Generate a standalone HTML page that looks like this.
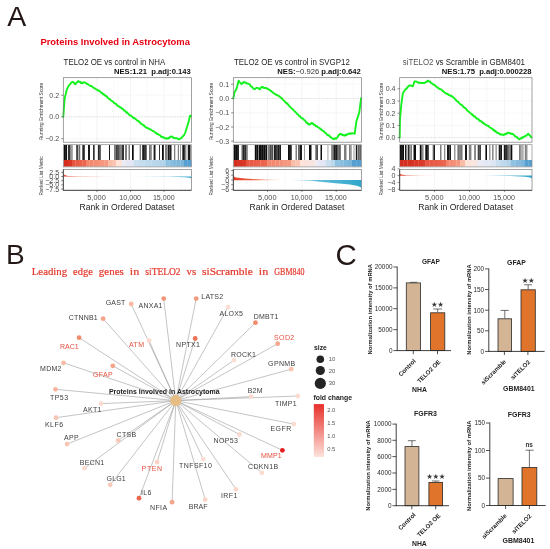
<!DOCTYPE html>
<html><head><meta charset="utf-8"><title>Figure</title>
<style>html,body{margin:0;padding:0;background:#fff}svg{display:block}</style></head>
<body><svg width="550" height="549" viewBox="0 0 550 549">
<rect width="550" height="549" fill="#fff"/>
<defs>
<linearGradient id="gr" x1="0" x2="1" y1="0" y2="0"><stop offset="0" stop-color="#e63c26"/><stop offset="0.55" stop-color="#ef6a4e"/><stop offset="1" stop-color="#fde5dc"/></linearGradient>
<linearGradient id="gb" x1="0" x2="1" y1="0" y2="0"><stop offset="0" stop-color="#d4ecf4"/><stop offset="0.4" stop-color="#5fbcd8"/><stop offset="1" stop-color="#2fa6cc"/></linearGradient>
<linearGradient id="gfc" x1="0" x2="0" y1="0" y2="1"><stop offset="0" stop-color="#e7302a"/><stop offset="1" stop-color="#fde3db"/></linearGradient>
</defs>
<text x="7.20" y="25.60" font-size="28.50" text-anchor="start" font-weight="normal" fill="#231815" font-family="Liberation Sans, Arial, sans-serif" >A</text>
<text x="6.00" y="264.00" font-size="28.00" text-anchor="start" font-weight="normal" fill="#231815" font-family="Liberation Sans, Arial, sans-serif" >B</text>
<text x="335.60" y="265.40" font-size="29.40" text-anchor="start" font-weight="normal" fill="#231815" font-family="Liberation Sans, Arial, sans-serif" >C</text>
<text x="40.40" y="44.80" font-size="9.50" text-anchor="start" font-weight="bold" fill="#e60012" font-family="Liberation Sans, Arial, sans-serif" textLength="149.60" lengthAdjust="spacingAndGlyphs" >Proteins Involved in Astrocytoma</text>
<line x1="80.10" y1="77.70" x2="80.10" y2="142.20" stroke="#f3f3f3" stroke-width="0.5"/>
<line x1="80.10" y1="169.50" x2="80.10" y2="190.30" stroke="#f3f3f3" stroke-width="0.5"/>
<line x1="96.90" y1="77.70" x2="96.90" y2="142.20" stroke="#e9e9e9" stroke-width="0.5"/>
<line x1="96.90" y1="169.50" x2="96.90" y2="190.30" stroke="#e9e9e9" stroke-width="0.5"/>
<line x1="113.70" y1="77.70" x2="113.70" y2="142.20" stroke="#f3f3f3" stroke-width="0.5"/>
<line x1="113.70" y1="169.50" x2="113.70" y2="190.30" stroke="#f3f3f3" stroke-width="0.5"/>
<line x1="130.50" y1="77.70" x2="130.50" y2="142.20" stroke="#e9e9e9" stroke-width="0.5"/>
<line x1="130.50" y1="169.50" x2="130.50" y2="190.30" stroke="#e9e9e9" stroke-width="0.5"/>
<line x1="147.30" y1="77.70" x2="147.30" y2="142.20" stroke="#f3f3f3" stroke-width="0.5"/>
<line x1="147.30" y1="169.50" x2="147.30" y2="190.30" stroke="#f3f3f3" stroke-width="0.5"/>
<line x1="164.10" y1="77.70" x2="164.10" y2="142.20" stroke="#e9e9e9" stroke-width="0.5"/>
<line x1="164.10" y1="169.50" x2="164.10" y2="190.30" stroke="#e9e9e9" stroke-width="0.5"/>
<line x1="180.90" y1="77.70" x2="180.90" y2="142.20" stroke="#f3f3f3" stroke-width="0.5"/>
<line x1="180.90" y1="169.50" x2="180.90" y2="190.30" stroke="#f3f3f3" stroke-width="0.5"/>
<line x1="63.30" y1="95.20" x2="191.40" y2="95.20" stroke="#efefef" stroke-width="0.5"/>
<line x1="63.30" y1="116.80" x2="191.40" y2="116.80" stroke="#efefef" stroke-width="0.5"/>
<line x1="63.30" y1="138.70" x2="191.40" y2="138.70" stroke="#efefef" stroke-width="0.5"/>
<line x1="63.30" y1="116.80" x2="191.40" y2="116.80" stroke="#cfcfcf" stroke-width="0.8" stroke-dasharray="0.9,1.7"/>
<path d="M63.30,116.80 L63.95,107.82 L64.60,99.20 L65.20,96.12 L65.80,93.88 L66.40,91.00 L67.03,89.04 L67.67,87.97 L68.30,86.40 L68.97,85.52 L69.63,84.46 L70.30,84.16 L70.97,82.94 L71.63,82.58 L72.30,81.90 L72.94,81.93 L73.58,82.41 L74.22,83.20 L74.86,84.07 L75.50,84.20 L76.20,83.02 L76.90,82.32 L77.60,81.93 L78.30,81.00 L78.90,81.81 L79.50,81.81 L80.10,82.00 L80.70,82.94 L81.30,82.38 L81.90,83.20 L82.80,83.06 L83.70,82.20 L84.36,82.33 L85.01,82.53 L85.67,82.85 L86.33,83.38 L86.99,84.23 L87.64,83.94 L88.30,84.60 L88.91,85.05 L89.52,85.47 L90.13,85.57 L90.74,86.11 L91.36,86.00 L91.97,86.36 L92.58,86.87 L93.19,87.71 L93.80,87.90 L94.43,88.19 L95.06,88.43 L95.69,89.07 L96.32,89.29 L96.95,89.50 L97.58,90.35 L98.21,90.62 L98.84,90.52 L99.47,91.21 L100.10,91.50 L100.73,92.03 L101.35,92.88 L101.98,93.23 L102.61,93.29 L103.23,94.48 L103.86,94.12 L104.48,94.92 L105.11,95.76 L105.74,95.65 L106.36,96.49 L106.99,96.54 L107.62,97.67 L108.24,98.26 L108.87,98.57 L109.49,99.38 L110.12,99.31 L110.75,100.20 L111.37,100.59 L112.00,101.00 L112.60,101.55 L113.21,101.90 L113.81,102.75 L114.41,103.32 L115.02,103.32 L115.62,103.98 L116.22,103.85 L116.82,104.96 L117.43,105.37 L118.03,106.19 L118.63,106.49 L119.24,106.42 L119.84,106.99 L120.44,107.74 L121.05,107.57 L121.65,108.48 L122.25,108.65 L122.85,109.07 L123.46,109.48 L124.06,110.66 L124.66,110.49 L125.27,111.08 L125.87,111.69 L126.47,112.64 L127.08,112.32 L127.68,113.16 L128.28,113.73 L128.88,114.53 L129.49,114.94 L130.09,115.45 L130.69,115.34 L131.30,115.95 L131.90,116.50 L132.50,116.81 L133.11,117.79 L133.71,118.32 L134.32,117.97 L134.92,118.45 L135.53,118.96 L136.13,119.41 L136.73,120.12 L137.34,120.68 L137.94,120.80 L138.55,121.00 L139.15,121.87 L139.75,122.27 L140.36,122.92 L140.96,123.77 L141.57,123.96 L142.17,124.24 L142.78,124.79 L143.38,125.31 L143.98,125.14 L144.59,126.44 L145.19,126.77 L145.80,127.32 L146.40,127.40 L147.01,128.06 L147.61,128.02 L148.22,128.39 L148.83,128.46 L149.43,129.35 L150.04,129.14 L150.65,129.51 L151.25,130.02 L151.86,130.33 L152.47,130.87 L153.07,130.95 L153.68,131.26 L154.29,131.77 L154.89,132.09 L155.50,132.71 L156.11,132.74 L156.71,133.95 L157.32,134.05 L157.93,133.95 L158.53,134.42 L159.14,134.88 L159.75,135.26 L160.35,135.38 L160.96,136.47 L161.57,136.98 L162.17,136.81 L162.78,137.19 L163.39,137.16 L163.99,137.54 L164.60,138.30 L165.28,138.20 L165.96,138.18 L166.64,138.81 L167.32,138.20 L168.00,138.60 L168.60,137.70 L169.20,138.21 L169.80,137.37 L170.40,136.57 L171.00,136.50 L171.67,136.79 L172.33,136.53 L173.00,137.28 L173.67,137.98 L174.33,138.11 L175.00,138.00 L175.70,138.41 L176.40,138.19 L177.10,138.52 L177.80,138.53 L178.50,139.36 L179.20,139.30 L179.90,138.88 L180.60,138.68 L181.30,137.78 L182.00,137.50 L182.68,136.30 L183.35,135.96 L184.02,135.21 L184.70,133.80 L185.30,132.34 L185.90,130.47 L186.50,128.67 L187.10,126.77 L187.70,124.44 L188.30,122.90 L189.20,119.27 L190.10,115.60 L191.20,116.20" fill="none" stroke="#14f21e" stroke-width="1.9" stroke-linejoin="round" stroke-linecap="round"/>
<rect x="63.30" y="77.70" width="128.10" height="64.50" fill="none" stroke="#7a7a7a" stroke-width="0.7"/>
<line x1="61.10" y1="95.20" x2="63.30" y2="95.20" stroke="#444" stroke-width="0.6"/>
<text x="59.10" y="97.70" font-size="7.00" text-anchor="end" font-weight="normal" fill="#4d4d4d" font-family="Liberation Sans, Arial, sans-serif" >0.2</text>
<line x1="61.10" y1="116.80" x2="63.30" y2="116.80" stroke="#444" stroke-width="0.6"/>
<text x="59.10" y="119.30" font-size="7.00" text-anchor="end" font-weight="normal" fill="#4d4d4d" font-family="Liberation Sans, Arial, sans-serif" >0.0</text>
<line x1="61.10" y1="138.70" x2="63.30" y2="138.70" stroke="#444" stroke-width="0.6"/>
<text x="59.10" y="141.20" font-size="7.00" text-anchor="end" font-weight="normal" fill="#4d4d4d" font-family="Liberation Sans, Arial, sans-serif" >−0.2</text>
<text transform="translate(42.60,111.50) rotate(-90)" font-size="4.80" text-anchor="middle" font-weight="normal" fill="#333" font-family="Liberation Sans, Arial, sans-serif" textLength="57.20" lengthAdjust="spacingAndGlyphs">Running Enrichment Score</text>
<text x="63.60" y="64.70" font-size="8.30" text-anchor="start" font-weight="normal" fill="#222" font-family="Liberation Sans, Arial, sans-serif" textLength="101.60" lengthAdjust="spacingAndGlyphs" >TELO2 OE vs control in NHA</text>
<text x="190.80" y="73.7" font-size="7.65" text-anchor="end" fill="#111" font-family="Liberation Sans, Arial, sans-serif"><tspan font-weight="bold">NES:1.21&#160;&#160;p.adj:0.143</tspan></text>
<rect x="63.80" y="145.00" width="3.20" height="15.00" fill="#000" fill-opacity="0.95"/>
<rect x="65.31" y="145.00" width="0.45" height="15.00" fill="#fff" fill-opacity="0.26"/>
<rect x="67.90" y="145.00" width="2.10" height="15.00" fill="#000" fill-opacity="0.80"/>
<rect x="70.00" y="145.00" width="2.70" height="15.00" fill="#000" fill-opacity="0.45"/>
<rect x="71.07" y="145.00" width="0.45" height="15.00" fill="#fff" fill-opacity="0.33"/>
<rect x="76.30" y="145.00" width="1.50" height="15.00" fill="#000" fill-opacity="0.90"/>
<rect x="78.00" y="145.00" width="1.00" height="15.00" fill="#000" fill-opacity="0.30"/>
<rect x="79.20" y="145.00" width="1.00" height="15.00" fill="#000" fill-opacity="0.70"/>
<rect x="82.30" y="145.00" width="2.50" height="15.00" fill="#000" fill-opacity="0.85"/>
<rect x="88.00" y="145.00" width="2.00" height="15.00" fill="#000" fill-opacity="0.90"/>
<rect x="93.10" y="145.00" width="1.50" height="15.00" fill="#000" fill-opacity="0.90"/>
<rect x="97.90" y="145.00" width="2.80" height="15.00" fill="#000" fill-opacity="0.85"/>
<rect x="99.16" y="145.00" width="0.45" height="15.00" fill="#fff" fill-opacity="0.46"/>
<rect x="109.00" y="145.00" width="1.00" height="15.00" fill="#000" fill-opacity="0.90"/>
<rect x="114.00" y="145.00" width="2.00" height="15.00" fill="#000" fill-opacity="0.50"/>
<rect x="116.00" y="145.00" width="3.00" height="15.00" fill="#000" fill-opacity="0.75"/>
<rect x="117.77" y="145.00" width="0.45" height="15.00" fill="#fff" fill-opacity="0.38"/>
<rect x="119.00" y="145.00" width="3.00" height="15.00" fill="#000" fill-opacity="0.55"/>
<rect x="120.76" y="145.00" width="0.45" height="15.00" fill="#fff" fill-opacity="0.55"/>
<rect x="122.00" y="145.00" width="2.00" height="15.00" fill="#000" fill-opacity="0.80"/>
<rect x="125.00" y="145.00" width="2.00" height="15.00" fill="#000" fill-opacity="0.50"/>
<rect x="128.50" y="145.00" width="1.50" height="15.00" fill="#000" fill-opacity="0.50"/>
<rect x="132.00" y="145.00" width="1.70" height="15.00" fill="#000" fill-opacity="0.95"/>
<rect x="139.60" y="145.00" width="1.40" height="15.00" fill="#000" fill-opacity="0.50"/>
<rect x="142.20" y="145.00" width="4.40" height="15.00" fill="#000" fill-opacity="0.90"/>
<rect x="143.94" y="145.00" width="0.45" height="15.00" fill="#fff" fill-opacity="0.36"/>
<rect x="144.97" y="145.00" width="0.45" height="15.00" fill="#fff" fill-opacity="0.32"/>
<rect x="149.00" y="145.00" width="2.70" height="15.00" fill="#000" fill-opacity="0.55"/>
<rect x="150.17" y="145.00" width="0.45" height="15.00" fill="#fff" fill-opacity="0.31"/>
<rect x="153.60" y="145.00" width="1.90" height="15.00" fill="#000" fill-opacity="0.90"/>
<rect x="159.00" y="145.00" width="1.00" height="15.00" fill="#000" fill-opacity="0.80"/>
<rect x="162.00" y="145.00" width="1.80" height="15.00" fill="#000" fill-opacity="0.95"/>
<rect x="165.00" y="145.00" width="2.00" height="15.00" fill="#000" fill-opacity="0.50"/>
<rect x="167.60" y="145.00" width="3.90" height="15.00" fill="#000" fill-opacity="0.90"/>
<rect x="169.62" y="145.00" width="0.45" height="15.00" fill="#fff" fill-opacity="0.52"/>
<rect x="174.00" y="145.00" width="1.30" height="15.00" fill="#000" fill-opacity="0.50"/>
<rect x="177.80" y="145.00" width="1.20" height="15.00" fill="#000" fill-opacity="0.50"/>
<rect x="180.00" y="145.00" width="1.00" height="15.00" fill="#000" fill-opacity="0.40"/>
<rect x="182.30" y="145.00" width="3.20" height="15.00" fill="#000" fill-opacity="0.90"/>
<rect x="184.10" y="145.00" width="0.45" height="15.00" fill="#fff" fill-opacity="0.39"/>
<rect x="186.50" y="145.00" width="1.00" height="15.00" fill="#000" fill-opacity="0.40"/>
<rect x="188.00" y="145.00" width="2.50" height="15.00" fill="#000" fill-opacity="0.90"/>
<rect x="63.60" y="160.00" width="4.40" height="6.60" fill="#d42c1d"/>
<rect x="67.80" y="160.00" width="4.40" height="6.60" fill="#d83524"/>
<rect x="72.00" y="160.00" width="3.70" height="6.60" fill="#e8553f"/>
<rect x="75.50" y="160.00" width="3.70" height="6.60" fill="#e95a44"/>
<rect x="79.00" y="160.00" width="3.70" height="6.60" fill="#ea6049"/>
<rect x="82.50" y="160.00" width="3.70" height="6.60" fill="#eb654e"/>
<rect x="86.00" y="160.00" width="3.87" height="6.60" fill="#f3866c"/>
<rect x="89.67" y="160.00" width="3.87" height="6.60" fill="#f38a70"/>
<rect x="93.33" y="160.00" width="3.87" height="6.60" fill="#f38e74"/>
<rect x="97.00" y="160.00" width="3.87" height="6.60" fill="#f49279"/>
<rect x="100.67" y="160.00" width="3.87" height="6.60" fill="#f4967d"/>
<rect x="104.33" y="160.00" width="3.87" height="6.60" fill="#f59a82"/>
<rect x="108.00" y="160.00" width="4.20" height="6.60" fill="#f9bda7"/>
<rect x="112.00" y="160.00" width="4.20" height="6.60" fill="#f9c5b2"/>
<rect x="116.00" y="160.00" width="6.20" height="6.60" fill="#fde3d8"/>
<rect x="122.00" y="160.00" width="4.20" height="6.60" fill="#ebeaf5"/>
<rect x="126.00" y="160.00" width="4.20" height="6.60" fill="#e5e8f4"/>
<rect x="130.00" y="160.00" width="4.20" height="6.60" fill="#e0e6f3"/>
<rect x="134.00" y="160.00" width="3.72" height="6.60" fill="#c9dff0"/>
<rect x="137.52" y="160.00" width="3.72" height="6.60" fill="#c6ddef"/>
<rect x="141.04" y="160.00" width="3.72" height="6.60" fill="#c3dcee"/>
<rect x="144.57" y="160.00" width="3.72" height="6.60" fill="#c0daed"/>
<rect x="148.09" y="160.00" width="3.72" height="6.60" fill="#bdd9ec"/>
<rect x="151.61" y="160.00" width="3.72" height="6.60" fill="#bad7ec"/>
<rect x="155.13" y="160.00" width="3.72" height="6.60" fill="#b7d6eb"/>
<rect x="158.66" y="160.00" width="3.72" height="6.60" fill="#b4d4ea"/>
<rect x="162.18" y="160.00" width="3.72" height="6.60" fill="#b1d3e9"/>
<rect x="165.70" y="160.00" width="3.86" height="6.60" fill="#8fc1e0"/>
<rect x="169.36" y="160.00" width="3.86" height="6.60" fill="#89bdde"/>
<rect x="173.02" y="160.00" width="3.86" height="6.60" fill="#84badd"/>
<rect x="176.68" y="160.00" width="3.86" height="6.60" fill="#7fb7db"/>
<rect x="180.34" y="160.00" width="3.86" height="6.60" fill="#7ab4da"/>
<rect x="184.00" y="160.00" width="3.80" height="6.60" fill="#559fd1"/>
<rect x="187.60" y="160.00" width="3.80" height="6.60" fill="#559fd1"/>
<rect x="63.30" y="144.70" width="128.10" height="22.20" fill="none" stroke="#8a8a8a" stroke-width="0.7"/>
<path d="M63.3,173.2 L64.5,175 L68,175.9 L80,176.3 L120,176.5 L63.3,176.6 Z" fill="url(#gr)"/>
<path d="M130,176.5 L170,176.7 L185,177.2 L189.5,177.8 L191.4,178.6 L191.4,176.4 Z" fill="url(#gb)"/>
<rect x="63.30" y="169.50" width="128.10" height="20.80" fill="none" stroke="#7a7a7a" stroke-width="0.7"/>
<line x1="63.30" y1="190.30" x2="191.40" y2="190.30" stroke="#333" stroke-width="0.8"/>
<line x1="63.30" y1="169.50" x2="63.30" y2="190.30" stroke="#333" stroke-width="0.8"/>
<line x1="61.10" y1="172.40" x2="63.30" y2="172.40" stroke="#444" stroke-width="0.6"/>
<text x="59.10" y="174.90" font-size="7.00" text-anchor="end" font-weight="normal" fill="#4d4d4d" font-family="Liberation Sans, Arial, sans-serif" >2.5</text>
<line x1="61.10" y1="176.50" x2="63.30" y2="176.50" stroke="#444" stroke-width="0.6"/>
<text x="59.10" y="179.00" font-size="7.00" text-anchor="end" font-weight="normal" fill="#4d4d4d" font-family="Liberation Sans, Arial, sans-serif" >0.0</text>
<line x1="61.10" y1="180.70" x2="63.30" y2="180.70" stroke="#444" stroke-width="0.6"/>
<text x="59.10" y="183.20" font-size="7.00" text-anchor="end" font-weight="normal" fill="#4d4d4d" font-family="Liberation Sans, Arial, sans-serif" >−2.5</text>
<line x1="61.10" y1="184.90" x2="63.30" y2="184.90" stroke="#444" stroke-width="0.6"/>
<text x="59.10" y="187.40" font-size="7.00" text-anchor="end" font-weight="normal" fill="#4d4d4d" font-family="Liberation Sans, Arial, sans-serif" >−5.0</text>
<line x1="61.10" y1="189.10" x2="63.30" y2="189.10" stroke="#444" stroke-width="0.6"/>
<text x="59.10" y="191.60" font-size="7.00" text-anchor="end" font-weight="normal" fill="#4d4d4d" font-family="Liberation Sans, Arial, sans-serif" >−7.5</text>
<text transform="translate(42.60,176.00) rotate(-90)" font-size="4.80" text-anchor="middle" font-weight="normal" fill="#333" font-family="Liberation Sans, Arial, sans-serif" textLength="39.00" lengthAdjust="spacingAndGlyphs">Ranked List Metric</text>
<line x1="96.90" y1="190.30" x2="96.90" y2="192.10" stroke="#444" stroke-width="0.6"/>
<text x="96.60" y="200.10" font-size="7.00" text-anchor="middle" font-weight="normal" fill="#4d4d4d" font-family="Liberation Sans, Arial, sans-serif" textLength="18.50" lengthAdjust="spacingAndGlyphs" >5,000</text>
<line x1="130.50" y1="190.30" x2="130.50" y2="192.10" stroke="#444" stroke-width="0.6"/>
<text x="130.20" y="200.10" font-size="7.00" text-anchor="middle" font-weight="normal" fill="#4d4d4d" font-family="Liberation Sans, Arial, sans-serif" textLength="21.80" lengthAdjust="spacingAndGlyphs" >10,000</text>
<line x1="164.10" y1="190.30" x2="164.10" y2="192.10" stroke="#444" stroke-width="0.6"/>
<text x="163.80" y="200.10" font-size="7.00" text-anchor="middle" font-weight="normal" fill="#4d4d4d" font-family="Liberation Sans, Arial, sans-serif" textLength="21.80" lengthAdjust="spacingAndGlyphs" >15,000</text>
<text x="79.50" y="209.60" font-size="8.50" text-anchor="start" font-weight="normal" fill="#222" font-family="Liberation Sans, Arial, sans-serif" textLength="95.00" lengthAdjust="spacingAndGlyphs" >Rank in Ordered Dataset</text>
<line x1="250.45" y1="77.70" x2="250.45" y2="142.20" stroke="#f3f3f3" stroke-width="0.5"/>
<line x1="250.45" y1="169.50" x2="250.45" y2="190.30" stroke="#f3f3f3" stroke-width="0.5"/>
<line x1="267.60" y1="77.70" x2="267.60" y2="142.20" stroke="#e9e9e9" stroke-width="0.5"/>
<line x1="267.60" y1="169.50" x2="267.60" y2="190.30" stroke="#e9e9e9" stroke-width="0.5"/>
<line x1="284.75" y1="77.70" x2="284.75" y2="142.20" stroke="#f3f3f3" stroke-width="0.5"/>
<line x1="284.75" y1="169.50" x2="284.75" y2="190.30" stroke="#f3f3f3" stroke-width="0.5"/>
<line x1="301.90" y1="77.70" x2="301.90" y2="142.20" stroke="#e9e9e9" stroke-width="0.5"/>
<line x1="301.90" y1="169.50" x2="301.90" y2="190.30" stroke="#e9e9e9" stroke-width="0.5"/>
<line x1="319.05" y1="77.70" x2="319.05" y2="142.20" stroke="#f3f3f3" stroke-width="0.5"/>
<line x1="319.05" y1="169.50" x2="319.05" y2="190.30" stroke="#f3f3f3" stroke-width="0.5"/>
<line x1="336.20" y1="77.70" x2="336.20" y2="142.20" stroke="#e9e9e9" stroke-width="0.5"/>
<line x1="336.20" y1="169.50" x2="336.20" y2="190.30" stroke="#e9e9e9" stroke-width="0.5"/>
<line x1="353.35" y1="77.70" x2="353.35" y2="142.20" stroke="#f3f3f3" stroke-width="0.5"/>
<line x1="353.35" y1="169.50" x2="353.35" y2="190.30" stroke="#f3f3f3" stroke-width="0.5"/>
<line x1="233.30" y1="84.20" x2="361.40" y2="84.20" stroke="#efefef" stroke-width="0.5"/>
<line x1="233.30" y1="98.50" x2="361.40" y2="98.50" stroke="#efefef" stroke-width="0.5"/>
<line x1="233.30" y1="112.80" x2="361.40" y2="112.80" stroke="#efefef" stroke-width="0.5"/>
<line x1="233.30" y1="127.00" x2="361.40" y2="127.00" stroke="#efefef" stroke-width="0.5"/>
<line x1="233.30" y1="141.10" x2="361.40" y2="141.10" stroke="#efefef" stroke-width="0.5"/>
<line x1="233.30" y1="98.50" x2="361.40" y2="98.50" stroke="#cfcfcf" stroke-width="0.8" stroke-dasharray="0.9,1.7"/>
<path d="M233.30,98.50 L233.95,95.35 L234.60,91.90 L235.20,91.30 L235.80,89.68 L236.40,89.20 L237.13,86.49 L237.87,83.88 L238.60,80.60 L239.32,81.78 L240.05,82.65 L240.78,83.28 L241.50,84.20 L242.15,83.30 L242.80,83.34 L243.45,82.31 L244.10,81.90 L244.70,82.46 L245.30,82.89 L245.90,82.57 L246.50,82.83 L247.10,83.63 L247.70,83.67 L248.30,83.70 L248.93,83.92 L249.56,84.43 L250.19,85.00 L250.82,86.30 L251.45,86.76 L252.08,86.65 L252.71,87.88 L253.34,88.58 L253.97,88.81 L254.60,89.20 L255.33,88.55 L256.07,88.25 L256.80,87.70 L257.60,87.83 L258.40,88.21 L259.20,89.20 L259.88,89.07 L260.55,88.15 L261.22,87.43 L261.90,86.80 L262.54,87.47 L263.18,87.21 L263.82,87.89 L264.46,88.09 L265.10,87.71 L265.74,87.99 L266.38,88.27 L267.02,88.46 L267.66,89.05 L268.30,89.20 L268.94,89.41 L269.58,90.02 L270.22,90.18 L270.86,91.41 L271.50,91.30 L272.14,91.86 L272.78,92.43 L273.42,93.20 L274.06,93.17 L274.70,93.70 L275.33,94.52 L275.96,94.50 L276.59,94.93 L277.22,95.32 L277.85,95.22 L278.48,96.04 L279.11,96.18 L279.74,96.40 L280.37,97.60 L281.00,97.70 L281.61,97.98 L282.23,98.89 L282.84,99.75 L283.46,100.19 L284.07,100.56 L284.69,101.36 L285.30,102.01 L285.91,102.84 L286.53,102.77 L287.14,103.83 L287.76,104.13 L288.37,104.76 L288.99,105.87 L289.60,106.21 L290.21,106.87 L290.83,107.67 L291.44,108.43 L292.06,108.57 L292.67,109.35 L293.29,109.85 L293.90,110.46 L294.51,111.25 L295.13,111.62 L295.74,112.30 L296.36,112.86 L296.97,113.93 L297.59,114.29 L298.20,114.70 L298.81,115.63 L299.41,116.25 L300.02,116.13 L300.62,116.98 L301.23,117.92 L301.83,118.37 L302.44,118.23 L303.04,118.77 L303.65,119.64 L304.26,119.83 L304.86,120.55 L305.47,120.94 L306.07,122.09 L306.68,122.76 L307.28,123.43 L307.89,123.24 L308.49,124.36 L309.10,124.70 L309.80,124.41 L310.50,123.44 L311.20,123.73 L311.90,122.90 L312.52,123.82 L313.15,123.52 L313.77,124.70 L314.40,124.60 L315.02,125.14 L315.65,126.09 L316.27,126.38 L316.90,126.16 L317.52,126.88 L318.15,127.42 L318.77,127.69 L319.40,128.00 L320.02,128.57 L320.65,129.42 L321.27,129.17 L321.90,130.10 L322.51,130.64 L323.11,131.02 L323.72,131.08 L324.32,131.89 L324.93,132.67 L325.53,133.05 L326.14,133.09 L326.74,134.50 L327.35,134.79 L327.96,135.46 L328.56,135.08 L329.17,135.73 L329.77,136.00 L330.38,137.22 L330.98,137.20 L331.59,137.55 L332.19,138.33 L332.80,138.90 L333.42,139.21 L334.03,139.02 L334.65,138.36 L335.27,138.15 L335.88,138.82 L336.50,138.30 L337.10,137.62 L337.70,137.00 L338.30,135.64 L338.90,134.86 L339.50,134.74 L340.10,133.80 L340.76,133.98 L341.41,133.89 L342.07,135.01 L342.73,134.96 L343.39,135.39 L344.04,134.93 L344.70,135.60 L345.31,135.66 L345.93,134.57 L346.54,135.06 L347.16,134.35 L347.77,133.94 L348.39,133.85 L349.00,133.50 L349.63,133.96 L350.27,133.33 L350.90,133.23 L351.53,133.66 L352.17,133.41 L352.80,133.31 L353.43,133.39 L354.07,133.32 L354.70,133.80 L355.30,129.24 L355.90,125.08 L356.50,121.00 L357.18,118.76 L357.85,117.16 L358.52,114.64 L359.20,112.80 L359.87,107.87 L360.53,102.61 L361.20,98.00" fill="none" stroke="#14f21e" stroke-width="1.9" stroke-linejoin="round" stroke-linecap="round"/>
<rect x="233.30" y="77.70" width="128.10" height="64.50" fill="none" stroke="#7a7a7a" stroke-width="0.7"/>
<line x1="231.10" y1="84.20" x2="233.30" y2="84.20" stroke="#444" stroke-width="0.6"/>
<text x="229.10" y="86.70" font-size="7.00" text-anchor="end" font-weight="normal" fill="#4d4d4d" font-family="Liberation Sans, Arial, sans-serif" >0.1</text>
<line x1="231.10" y1="98.50" x2="233.30" y2="98.50" stroke="#444" stroke-width="0.6"/>
<text x="229.10" y="101.00" font-size="7.00" text-anchor="end" font-weight="normal" fill="#4d4d4d" font-family="Liberation Sans, Arial, sans-serif" >0.0</text>
<line x1="231.10" y1="112.80" x2="233.30" y2="112.80" stroke="#444" stroke-width="0.6"/>
<text x="229.10" y="115.30" font-size="7.00" text-anchor="end" font-weight="normal" fill="#4d4d4d" font-family="Liberation Sans, Arial, sans-serif" >−0.1</text>
<line x1="231.10" y1="127.00" x2="233.30" y2="127.00" stroke="#444" stroke-width="0.6"/>
<text x="229.10" y="129.50" font-size="7.00" text-anchor="end" font-weight="normal" fill="#4d4d4d" font-family="Liberation Sans, Arial, sans-serif" >−0.2</text>
<line x1="231.10" y1="141.10" x2="233.30" y2="141.10" stroke="#444" stroke-width="0.6"/>
<text x="229.10" y="143.60" font-size="7.00" text-anchor="end" font-weight="normal" fill="#4d4d4d" font-family="Liberation Sans, Arial, sans-serif" >−0.3</text>
<text transform="translate(212.60,111.50) rotate(-90)" font-size="4.80" text-anchor="middle" font-weight="normal" fill="#333" font-family="Liberation Sans, Arial, sans-serif" textLength="57.20" lengthAdjust="spacingAndGlyphs">Running Enrichment Score</text>
<text x="234.00" y="64.70" font-size="8.30" text-anchor="start" font-weight="normal" fill="#222" font-family="Liberation Sans, Arial, sans-serif" textLength="115.80" lengthAdjust="spacingAndGlyphs" >TELO2 OE vs control in SVGP12</text>
<text x="360.80" y="73.7" font-size="7.65" text-anchor="end" fill="#111" font-family="Liberation Sans, Arial, sans-serif"><tspan font-weight="bold">NES:</tspan><tspan fill="#333">−0.926</tspan><tspan font-weight="bold"> p.adj:0.642</tspan></text>
<rect x="233.80" y="145.00" width="5.10" height="15.00" fill="#000" fill-opacity="0.95"/>
<rect x="235.41" y="145.00" width="0.45" height="15.00" fill="#fff" fill-opacity="0.26"/>
<rect x="237.05" y="145.00" width="0.45" height="15.00" fill="#fff" fill-opacity="0.25"/>
<rect x="241.50" y="145.00" width="1.50" height="15.00" fill="#000" fill-opacity="0.60"/>
<rect x="243.00" y="145.00" width="3.00" height="15.00" fill="#000" fill-opacity="0.85"/>
<rect x="244.64" y="145.00" width="0.45" height="15.00" fill="#fff" fill-opacity="0.42"/>
<rect x="246.00" y="145.00" width="1.80" height="15.00" fill="#000" fill-opacity="0.50"/>
<rect x="254.80" y="145.00" width="3.20" height="15.00" fill="#000" fill-opacity="0.95"/>
<rect x="256.21" y="145.00" width="0.45" height="15.00" fill="#fff" fill-opacity="0.39"/>
<rect x="258.00" y="145.00" width="1.00" height="15.00" fill="#000" fill-opacity="0.50"/>
<rect x="259.00" y="145.00" width="8.00" height="15.00" fill="#000" fill-opacity="0.95"/>
<rect x="261.26" y="145.00" width="0.45" height="15.00" fill="#fff" fill-opacity="0.28"/>
<rect x="263.19" y="145.00" width="0.45" height="15.00" fill="#fff" fill-opacity="0.38"/>
<rect x="265.00" y="145.00" width="0.45" height="15.00" fill="#fff" fill-opacity="0.50"/>
<rect x="267.50" y="145.00" width="2.50" height="15.00" fill="#000" fill-opacity="0.50"/>
<rect x="270.00" y="145.00" width="3.30" height="15.00" fill="#000" fill-opacity="0.70"/>
<rect x="271.59" y="145.00" width="0.45" height="15.00" fill="#fff" fill-opacity="0.40"/>
<rect x="274.00" y="145.00" width="7.00" height="15.00" fill="#000" fill-opacity="0.90"/>
<rect x="275.86" y="145.00" width="0.45" height="15.00" fill="#fff" fill-opacity="0.54"/>
<rect x="277.41" y="145.00" width="0.45" height="15.00" fill="#fff" fill-opacity="0.50"/>
<rect x="279.37" y="145.00" width="0.45" height="15.00" fill="#fff" fill-opacity="0.44"/>
<rect x="288.00" y="145.00" width="3.70" height="15.00" fill="#000" fill-opacity="0.95"/>
<rect x="289.79" y="145.00" width="0.45" height="15.00" fill="#fff" fill-opacity="0.35"/>
<rect x="295.50" y="145.00" width="1.50" height="15.00" fill="#000" fill-opacity="0.50"/>
<rect x="298.00" y="145.00" width="2.00" height="15.00" fill="#000" fill-opacity="0.60"/>
<rect x="300.00" y="145.00" width="2.00" height="15.00" fill="#000" fill-opacity="0.90"/>
<rect x="304.00" y="145.00" width="1.00" height="15.00" fill="#000" fill-opacity="0.40"/>
<rect x="309.00" y="145.00" width="2.50" height="15.00" fill="#000" fill-opacity="0.95"/>
<rect x="315.40" y="145.00" width="2.60" height="15.00" fill="#000" fill-opacity="0.70"/>
<rect x="316.43" y="145.00" width="0.45" height="15.00" fill="#fff" fill-opacity="0.29"/>
<rect x="320.50" y="145.00" width="1.50" height="15.00" fill="#000" fill-opacity="0.95"/>
<rect x="327.50" y="145.00" width="0.90" height="15.00" fill="#000" fill-opacity="0.40"/>
<rect x="331.30" y="145.00" width="2.70" height="15.00" fill="#000" fill-opacity="0.60"/>
<rect x="332.39" y="145.00" width="0.45" height="15.00" fill="#fff" fill-opacity="0.47"/>
<rect x="334.00" y="145.00" width="3.00" height="15.00" fill="#000" fill-opacity="0.90"/>
<rect x="335.35" y="145.00" width="0.45" height="15.00" fill="#fff" fill-opacity="0.30"/>
<rect x="337.00" y="145.00" width="3.80" height="15.00" fill="#000" fill-opacity="0.65"/>
<rect x="338.65" y="145.00" width="0.45" height="15.00" fill="#fff" fill-opacity="0.50"/>
<rect x="344.00" y="145.00" width="2.50" height="15.00" fill="#000" fill-opacity="0.50"/>
<rect x="349.00" y="145.00" width="2.60" height="15.00" fill="#000" fill-opacity="0.50"/>
<rect x="350.52" y="145.00" width="0.45" height="15.00" fill="#fff" fill-opacity="0.45"/>
<rect x="353.50" y="145.00" width="1.00" height="15.00" fill="#000" fill-opacity="0.40"/>
<rect x="355.80" y="145.00" width="1.60" height="15.00" fill="#000" fill-opacity="0.90"/>
<rect x="358.00" y="145.00" width="3.20" height="15.00" fill="#000" fill-opacity="0.60"/>
<rect x="359.47" y="145.00" width="0.45" height="15.00" fill="#fff" fill-opacity="0.32"/>
<rect x="233.60" y="160.00" width="4.33" height="6.60" fill="#d42c1d"/>
<rect x="237.73" y="160.00" width="4.33" height="6.60" fill="#d73222"/>
<rect x="241.87" y="160.00" width="4.33" height="6.60" fill="#da3827"/>
<rect x="246.00" y="160.00" width="3.78" height="6.60" fill="#e8553f"/>
<rect x="249.58" y="160.00" width="3.78" height="6.60" fill="#e85842"/>
<rect x="253.17" y="160.00" width="3.78" height="6.60" fill="#e95c45"/>
<rect x="256.75" y="160.00" width="3.78" height="6.60" fill="#ea6049"/>
<rect x="260.33" y="160.00" width="3.78" height="6.60" fill="#eb634c"/>
<rect x="263.92" y="160.00" width="3.78" height="6.60" fill="#ec674f"/>
<rect x="267.50" y="160.00" width="4.12" height="6.60" fill="#f3866c"/>
<rect x="271.42" y="160.00" width="4.12" height="6.60" fill="#f38a70"/>
<rect x="275.33" y="160.00" width="4.12" height="6.60" fill="#f38e74"/>
<rect x="279.25" y="160.00" width="4.12" height="6.60" fill="#f49279"/>
<rect x="283.17" y="160.00" width="4.12" height="6.60" fill="#f4967d"/>
<rect x="287.08" y="160.00" width="4.12" height="6.60" fill="#f59a82"/>
<rect x="291.00" y="160.00" width="4.70" height="6.60" fill="#f9bda7"/>
<rect x="295.50" y="160.00" width="4.70" height="6.60" fill="#f9c5b2"/>
<rect x="300.00" y="160.00" width="4.05" height="6.60" fill="#fde3d8"/>
<rect x="303.85" y="160.00" width="4.05" height="6.60" fill="#fae3db"/>
<rect x="307.70" y="160.00" width="4.05" height="6.60" fill="#f8e4de"/>
<rect x="311.55" y="160.00" width="4.05" height="6.60" fill="#f6e5e1"/>
<rect x="315.40" y="160.00" width="3.73" height="6.60" fill="#ebeaf5"/>
<rect x="318.93" y="160.00" width="3.73" height="6.60" fill="#e5e8f4"/>
<rect x="322.47" y="160.00" width="3.73" height="6.60" fill="#e0e6f3"/>
<rect x="326.00" y="160.00" width="4.70" height="6.60" fill="#c9dff0"/>
<rect x="330.50" y="160.00" width="4.70" height="6.60" fill="#bbd8ec"/>
<rect x="335.00" y="160.00" width="4.45" height="6.60" fill="#8fc1e0"/>
<rect x="339.25" y="160.00" width="4.45" height="6.60" fill="#88bdde"/>
<rect x="343.50" y="160.00" width="4.45" height="6.60" fill="#81b9dc"/>
<rect x="347.75" y="160.00" width="4.45" height="6.60" fill="#7bb5da"/>
<rect x="352.00" y="160.00" width="4.80" height="6.60" fill="#559fd1"/>
<rect x="356.60" y="160.00" width="4.80" height="6.60" fill="#559fd1"/>
<rect x="233.30" y="144.70" width="128.10" height="22.20" fill="none" stroke="#8a8a8a" stroke-width="0.7"/>
<path d="M233.3,176.3 L236,177.4 L245,178.5 L262,179.5 L283,180.1 L233.3,180.2 Z" fill="url(#gr)"/>
<path d="M290,180 L310,180.7 L333,183 L350,184.6 L358,186 L361.4,187.7 L361.4,180 Z" fill="url(#gb)"/>
<rect x="233.30" y="169.50" width="128.10" height="20.80" fill="none" stroke="#7a7a7a" stroke-width="0.7"/>
<line x1="233.30" y1="190.30" x2="361.40" y2="190.30" stroke="#333" stroke-width="0.8"/>
<line x1="233.30" y1="169.50" x2="233.30" y2="190.30" stroke="#333" stroke-width="0.8"/>
<line x1="231.10" y1="170.50" x2="233.30" y2="170.50" stroke="#444" stroke-width="0.6"/>
<text x="229.10" y="173.00" font-size="7.00" text-anchor="end" font-weight="normal" fill="#4d4d4d" font-family="Liberation Sans, Arial, sans-serif" >6</text>
<line x1="231.10" y1="175.20" x2="233.30" y2="175.20" stroke="#444" stroke-width="0.6"/>
<text x="229.10" y="177.70" font-size="7.00" text-anchor="end" font-weight="normal" fill="#4d4d4d" font-family="Liberation Sans, Arial, sans-serif" >3</text>
<line x1="231.10" y1="180.00" x2="233.30" y2="180.00" stroke="#444" stroke-width="0.6"/>
<text x="229.10" y="182.50" font-size="7.00" text-anchor="end" font-weight="normal" fill="#4d4d4d" font-family="Liberation Sans, Arial, sans-serif" >0</text>
<line x1="231.10" y1="184.70" x2="233.30" y2="184.70" stroke="#444" stroke-width="0.6"/>
<text x="229.10" y="187.20" font-size="7.00" text-anchor="end" font-weight="normal" fill="#4d4d4d" font-family="Liberation Sans, Arial, sans-serif" >−3</text>
<line x1="231.10" y1="189.40" x2="233.30" y2="189.40" stroke="#444" stroke-width="0.6"/>
<text x="229.10" y="191.90" font-size="7.00" text-anchor="end" font-weight="normal" fill="#4d4d4d" font-family="Liberation Sans, Arial, sans-serif" >−6</text>
<text transform="translate(212.60,176.00) rotate(-90)" font-size="4.80" text-anchor="middle" font-weight="normal" fill="#333" font-family="Liberation Sans, Arial, sans-serif" textLength="39.00" lengthAdjust="spacingAndGlyphs">Ranked List Metric</text>
<line x1="267.60" y1="190.30" x2="267.60" y2="192.10" stroke="#444" stroke-width="0.6"/>
<text x="267.30" y="200.10" font-size="7.00" text-anchor="middle" font-weight="normal" fill="#4d4d4d" font-family="Liberation Sans, Arial, sans-serif" textLength="18.50" lengthAdjust="spacingAndGlyphs" >5,000</text>
<line x1="301.90" y1="190.30" x2="301.90" y2="192.10" stroke="#444" stroke-width="0.6"/>
<text x="301.60" y="200.10" font-size="7.00" text-anchor="middle" font-weight="normal" fill="#4d4d4d" font-family="Liberation Sans, Arial, sans-serif" textLength="21.80" lengthAdjust="spacingAndGlyphs" >10,000</text>
<line x1="336.20" y1="190.30" x2="336.20" y2="192.10" stroke="#444" stroke-width="0.6"/>
<text x="335.90" y="200.10" font-size="7.00" text-anchor="middle" font-weight="normal" fill="#4d4d4d" font-family="Liberation Sans, Arial, sans-serif" textLength="21.80" lengthAdjust="spacingAndGlyphs" >15,000</text>
<text x="249.50" y="209.60" font-size="8.50" text-anchor="start" font-weight="normal" fill="#222" font-family="Liberation Sans, Arial, sans-serif" textLength="95.00" lengthAdjust="spacingAndGlyphs" >Rank in Ordered Dataset</text>
<line x1="417.15" y1="77.70" x2="417.15" y2="142.20" stroke="#f3f3f3" stroke-width="0.5"/>
<line x1="417.15" y1="169.50" x2="417.15" y2="190.30" stroke="#f3f3f3" stroke-width="0.5"/>
<line x1="434.60" y1="77.70" x2="434.60" y2="142.20" stroke="#e9e9e9" stroke-width="0.5"/>
<line x1="434.60" y1="169.50" x2="434.60" y2="190.30" stroke="#e9e9e9" stroke-width="0.5"/>
<line x1="452.05" y1="77.70" x2="452.05" y2="142.20" stroke="#f3f3f3" stroke-width="0.5"/>
<line x1="452.05" y1="169.50" x2="452.05" y2="190.30" stroke="#f3f3f3" stroke-width="0.5"/>
<line x1="469.50" y1="77.70" x2="469.50" y2="142.20" stroke="#e9e9e9" stroke-width="0.5"/>
<line x1="469.50" y1="169.50" x2="469.50" y2="190.30" stroke="#e9e9e9" stroke-width="0.5"/>
<line x1="486.95" y1="77.70" x2="486.95" y2="142.20" stroke="#f3f3f3" stroke-width="0.5"/>
<line x1="486.95" y1="169.50" x2="486.95" y2="190.30" stroke="#f3f3f3" stroke-width="0.5"/>
<line x1="504.40" y1="77.70" x2="504.40" y2="142.20" stroke="#e9e9e9" stroke-width="0.5"/>
<line x1="504.40" y1="169.50" x2="504.40" y2="190.30" stroke="#e9e9e9" stroke-width="0.5"/>
<line x1="521.85" y1="77.70" x2="521.85" y2="142.20" stroke="#f3f3f3" stroke-width="0.5"/>
<line x1="521.85" y1="169.50" x2="521.85" y2="190.30" stroke="#f3f3f3" stroke-width="0.5"/>
<line x1="399.70" y1="88.80" x2="532.00" y2="88.80" stroke="#efefef" stroke-width="0.5"/>
<line x1="399.70" y1="101.00" x2="532.00" y2="101.00" stroke="#efefef" stroke-width="0.5"/>
<line x1="399.70" y1="113.20" x2="532.00" y2="113.20" stroke="#efefef" stroke-width="0.5"/>
<line x1="399.70" y1="125.40" x2="532.00" y2="125.40" stroke="#efefef" stroke-width="0.5"/>
<line x1="399.70" y1="137.60" x2="532.00" y2="137.60" stroke="#efefef" stroke-width="0.5"/>
<line x1="399.70" y1="137.60" x2="532.00" y2="137.60" stroke="#cfcfcf" stroke-width="0.8" stroke-dasharray="0.9,1.7"/>
<path d="M399.70,137.60 L400.00,119.20 L400.65,111.69 L401.30,104.60 L402.05,99.11 L402.80,93.70 L403.48,92.23 L404.15,91.40 L404.82,90.09 L405.50,89.20 L406.12,89.05 L406.73,88.44 L407.35,87.40 L407.97,86.48 L408.58,86.58 L409.20,85.50 L409.80,85.46 L410.40,85.66 L411.00,85.45 L411.60,85.98 L412.20,86.22 L412.80,86.40 L413.40,84.70 L414.00,82.70 L414.60,81.30 L415.26,81.58 L415.91,81.35 L416.57,81.88 L417.23,81.98 L417.89,82.56 L418.54,82.47 L419.20,83.20 L419.80,82.68 L420.40,82.92 L421.00,82.80 L421.60,83.11 L422.20,83.01 L422.80,83.18 L423.40,83.05 L424.00,83.06 L424.60,82.80 L425.22,82.81 L425.83,81.96 L426.45,81.53 L427.07,81.82 L427.68,80.62 L428.30,80.60 L428.91,81.27 L429.52,81.63 L430.13,81.48 L430.74,82.71 L431.36,83.21 L431.97,83.39 L432.58,83.94 L433.19,84.47 L433.80,84.60 L434.40,84.67 L435.01,85.49 L435.61,85.90 L436.22,86.67 L436.82,87.07 L437.43,87.53 L438.03,87.72 L438.64,88.46 L439.24,88.68 L439.85,89.13 L440.45,89.10 L441.06,89.33 L441.66,89.87 L442.27,90.53 L442.87,90.70 L443.48,91.87 L444.08,92.03 L444.69,92.53 L445.29,92.96 L445.90,93.45 L446.50,93.70 L447.11,93.99 L447.72,93.80 L448.33,94.90 L448.94,95.15 L449.56,95.20 L450.17,95.54 L450.78,95.96 L451.39,95.67 L452.00,96.40 L452.60,97.18 L453.20,97.25 L453.80,97.61 L454.40,98.35 L455.00,99.36 L455.60,99.39 L456.20,100.47 L456.80,101.25 L457.40,101.31 L458.00,101.75 L458.60,102.39 L459.20,103.14 L459.80,103.77 L460.40,104.17 L461.00,104.74 L461.60,104.72 L462.20,105.34 L462.80,105.99 L463.40,107.03 L464.00,107.14 L464.60,107.95 L465.20,107.94 L465.80,108.53 L466.40,109.29 L467.00,110.24 L467.60,110.81 L468.20,111.34 L468.80,111.50 L469.40,112.27 L470.00,112.80 L470.61,113.25 L471.21,113.74 L471.82,113.88 L472.43,115.14 L473.03,114.93 L473.64,116.20 L474.25,116.64 L474.85,116.21 L475.46,117.14 L476.07,117.99 L476.67,118.62 L477.28,118.59 L477.89,118.90 L478.49,119.32 L479.10,120.10 L479.71,120.96 L480.32,120.64 L480.93,121.43 L481.54,121.40 L482.15,122.20 L482.75,123.04 L483.36,122.64 L483.97,123.74 L484.58,123.85 L485.19,124.64 L485.80,124.87 L486.41,124.81 L487.02,125.89 L487.63,125.90 L488.24,125.85 L488.85,126.25 L489.45,127.15 L490.06,127.52 L490.67,127.79 L491.28,128.04 L491.89,128.66 L492.50,129.05 L493.11,129.99 L493.72,129.57 L494.33,130.73 L494.94,131.23 L495.55,130.93 L496.15,132.15 L496.76,132.35 L497.37,132.96 L497.98,132.76 L498.59,133.26 L499.20,133.80 L499.84,133.89 L500.49,134.70 L501.13,134.49 L501.77,134.46 L502.41,134.73 L503.06,134.78 L503.70,135.20 L504.32,134.36 L504.93,134.04 L505.55,134.38 L506.17,133.45 L506.78,133.72 L507.40,132.90 L508.07,132.76 L508.75,132.89 L509.42,133.25 L510.10,133.04 L510.77,133.34 L511.45,134.03 L512.12,134.07 L512.80,133.80 L513.44,134.66 L514.08,135.03 L514.72,135.86 L515.36,136.44 L516.00,136.60 L516.64,137.32 L517.28,137.20 L517.92,138.43 L518.56,138.70 L519.20,139.30 L519.81,139.24 L520.42,138.82 L521.03,138.15 L521.64,137.60 L522.26,138.17 L522.87,137.06 L523.48,137.09 L524.09,136.65 L524.70,136.50 L525.42,135.76 L526.14,135.66 L526.86,135.36 L527.58,134.10 L528.30,133.80 L528.92,134.68 L529.54,135.04 L530.16,136.02 L530.78,136.57 L531.40,137.40" fill="none" stroke="#14f21e" stroke-width="1.9" stroke-linejoin="round" stroke-linecap="round"/>
<rect x="399.70" y="77.70" width="132.30" height="64.50" fill="none" stroke="#7a7a7a" stroke-width="0.7"/>
<line x1="397.50" y1="88.80" x2="399.70" y2="88.80" stroke="#444" stroke-width="0.6"/>
<text x="395.50" y="91.30" font-size="7.00" text-anchor="end" font-weight="normal" fill="#4d4d4d" font-family="Liberation Sans, Arial, sans-serif" >0.4</text>
<line x1="397.50" y1="101.00" x2="399.70" y2="101.00" stroke="#444" stroke-width="0.6"/>
<text x="395.50" y="103.50" font-size="7.00" text-anchor="end" font-weight="normal" fill="#4d4d4d" font-family="Liberation Sans, Arial, sans-serif" >0.3</text>
<line x1="397.50" y1="113.20" x2="399.70" y2="113.20" stroke="#444" stroke-width="0.6"/>
<text x="395.50" y="115.70" font-size="7.00" text-anchor="end" font-weight="normal" fill="#4d4d4d" font-family="Liberation Sans, Arial, sans-serif" >0.2</text>
<line x1="397.50" y1="125.40" x2="399.70" y2="125.40" stroke="#444" stroke-width="0.6"/>
<text x="395.50" y="127.90" font-size="7.00" text-anchor="end" font-weight="normal" fill="#4d4d4d" font-family="Liberation Sans, Arial, sans-serif" >0.1</text>
<line x1="397.50" y1="137.60" x2="399.70" y2="137.60" stroke="#444" stroke-width="0.6"/>
<text x="395.50" y="140.10" font-size="7.00" text-anchor="end" font-weight="normal" fill="#4d4d4d" font-family="Liberation Sans, Arial, sans-serif" >0.0</text>
<text transform="translate(382.60,111.50) rotate(-90)" font-size="4.80" text-anchor="middle" font-weight="normal" fill="#333" font-family="Liberation Sans, Arial, sans-serif" textLength="57.20" lengthAdjust="spacingAndGlyphs">Running Enrichment Score</text>
<text x="402.80" y="64.70" font-size="8.30" text-anchor="start" font-weight="normal" fill="#222" font-family="Liberation Sans, Arial, sans-serif" textLength="122.20" lengthAdjust="spacingAndGlyphs" ><tspan fill="#555">siTELO2</tspan> vs Scramble in GBM8401</text>
<text x="531.40" y="73.7" font-size="7.65" text-anchor="end" fill="#111" font-family="Liberation Sans, Arial, sans-serif"><tspan font-weight="bold">NES:1.75&#160;&#160;p.adj:0.000228</tspan></text>
<rect x="400.00" y="145.00" width="4.00" height="15.00" fill="#000" fill-opacity="0.95"/>
<rect x="401.80" y="145.00" width="0.45" height="15.00" fill="#fff" fill-opacity="0.30"/>
<rect x="405.00" y="145.00" width="1.50" height="15.00" fill="#000" fill-opacity="0.90"/>
<rect x="407.70" y="145.00" width="1.30" height="15.00" fill="#000" fill-opacity="0.85"/>
<rect x="409.00" y="145.00" width="3.00" height="15.00" fill="#000" fill-opacity="0.50"/>
<rect x="410.32" y="145.00" width="0.45" height="15.00" fill="#fff" fill-opacity="0.52"/>
<rect x="413.50" y="145.00" width="2.50" height="15.00" fill="#000" fill-opacity="0.95"/>
<rect x="419.80" y="145.00" width="1.70" height="15.00" fill="#000" fill-opacity="0.95"/>
<rect x="421.50" y="145.00" width="2.10" height="15.00" fill="#000" fill-opacity="0.45"/>
<rect x="425.30" y="145.00" width="3.40" height="15.00" fill="#000" fill-opacity="0.95"/>
<rect x="427.00" y="145.00" width="0.45" height="15.00" fill="#fff" fill-opacity="0.32"/>
<rect x="432.50" y="145.00" width="0.90" height="15.00" fill="#000" fill-opacity="0.40"/>
<rect x="433.40" y="145.00" width="1.60" height="15.00" fill="#000" fill-opacity="0.90"/>
<rect x="440.00" y="145.00" width="1.50" height="15.00" fill="#000" fill-opacity="0.50"/>
<rect x="444.00" y="145.00" width="1.30" height="15.00" fill="#000" fill-opacity="0.45"/>
<rect x="447.00" y="145.00" width="4.00" height="15.00" fill="#000" fill-opacity="0.90"/>
<rect x="449.24" y="145.00" width="0.45" height="15.00" fill="#fff" fill-opacity="0.55"/>
<rect x="454.00" y="145.00" width="1.50" height="15.00" fill="#000" fill-opacity="0.40"/>
<rect x="457.40" y="145.00" width="5.10" height="15.00" fill="#000" fill-opacity="0.55"/>
<rect x="459.07" y="145.00" width="0.45" height="15.00" fill="#fff" fill-opacity="0.29"/>
<rect x="460.62" y="145.00" width="0.45" height="15.00" fill="#fff" fill-opacity="0.28"/>
<rect x="465.00" y="145.00" width="2.00" height="15.00" fill="#000" fill-opacity="0.90"/>
<rect x="468.80" y="145.00" width="2.60" height="15.00" fill="#000" fill-opacity="0.50"/>
<rect x="474.00" y="145.00" width="2.00" height="15.00" fill="#000" fill-opacity="0.45"/>
<rect x="477.70" y="145.00" width="3.30" height="15.00" fill="#000" fill-opacity="0.75"/>
<rect x="479.26" y="145.00" width="0.45" height="15.00" fill="#fff" fill-opacity="0.28"/>
<rect x="485.40" y="145.00" width="1.60" height="15.00" fill="#000" fill-opacity="0.95"/>
<rect x="489.00" y="145.00" width="1.50" height="15.00" fill="#000" fill-opacity="0.40"/>
<rect x="492.00" y="145.00" width="1.60" height="15.00" fill="#000" fill-opacity="0.45"/>
<rect x="495.50" y="145.00" width="1.30" height="15.00" fill="#000" fill-opacity="0.45"/>
<rect x="498.70" y="145.00" width="3.30" height="15.00" fill="#000" fill-opacity="0.90"/>
<rect x="500.19" y="145.00" width="0.45" height="15.00" fill="#fff" fill-opacity="0.33"/>
<rect x="503.80" y="145.00" width="3.80" height="15.00" fill="#000" fill-opacity="0.90"/>
<rect x="505.74" y="145.00" width="0.45" height="15.00" fill="#fff" fill-opacity="0.52"/>
<rect x="507.60" y="145.00" width="3.20" height="15.00" fill="#000" fill-opacity="0.55"/>
<rect x="509.35" y="145.00" width="0.45" height="15.00" fill="#fff" fill-opacity="0.37"/>
<rect x="510.80" y="145.00" width="1.50" height="15.00" fill="#000" fill-opacity="0.95"/>
<rect x="519.00" y="145.00" width="2.60" height="15.00" fill="#000" fill-opacity="0.50"/>
<rect x="520.25" y="145.00" width="0.45" height="15.00" fill="#fff" fill-opacity="0.41"/>
<rect x="522.30" y="145.00" width="1.20" height="15.00" fill="#000" fill-opacity="0.45"/>
<rect x="524.80" y="145.00" width="2.60" height="15.00" fill="#000" fill-opacity="0.50"/>
<rect x="526.03" y="145.00" width="0.45" height="15.00" fill="#fff" fill-opacity="0.35"/>
<rect x="400.00" y="160.00" width="3.84" height="6.60" fill="#d42c1d"/>
<rect x="403.64" y="160.00" width="3.84" height="6.60" fill="#d52e1f"/>
<rect x="407.29" y="160.00" width="3.84" height="6.60" fill="#d63121"/>
<rect x="410.93" y="160.00" width="3.84" height="6.60" fill="#d73323"/>
<rect x="414.57" y="160.00" width="3.84" height="6.60" fill="#d93625"/>
<rect x="418.21" y="160.00" width="3.84" height="6.60" fill="#da3927"/>
<rect x="421.86" y="160.00" width="3.84" height="6.60" fill="#db3b2a"/>
<rect x="425.50" y="160.00" width="4.30" height="6.60" fill="#e8553f"/>
<rect x="429.60" y="160.00" width="4.30" height="6.60" fill="#e85943"/>
<rect x="433.70" y="160.00" width="4.30" height="6.60" fill="#e95d47"/>
<rect x="437.80" y="160.00" width="4.30" height="6.60" fill="#ea624b"/>
<rect x="441.90" y="160.00" width="4.30" height="6.60" fill="#eb664f"/>
<rect x="446.00" y="160.00" width="3.70" height="6.60" fill="#f3866c"/>
<rect x="449.50" y="160.00" width="3.70" height="6.60" fill="#f38c72"/>
<rect x="453.00" y="160.00" width="3.70" height="6.60" fill="#f49279"/>
<rect x="456.50" y="160.00" width="3.70" height="6.60" fill="#f5987f"/>
<rect x="460.00" y="160.00" width="5.20" height="6.60" fill="#f9bda7"/>
<rect x="465.00" y="160.00" width="4.43" height="6.60" fill="#fde3d8"/>
<rect x="469.23" y="160.00" width="4.43" height="6.60" fill="#fae4dc"/>
<rect x="473.47" y="160.00" width="4.43" height="6.60" fill="#f7e5e0"/>
<rect x="477.70" y="160.00" width="3.76" height="6.60" fill="#ebeaf5"/>
<rect x="481.26" y="160.00" width="3.76" height="6.60" fill="#e7e9f4"/>
<rect x="484.82" y="160.00" width="3.76" height="6.60" fill="#e4e8f4"/>
<rect x="488.38" y="160.00" width="3.76" height="6.60" fill="#e1e7f3"/>
<rect x="491.94" y="160.00" width="3.76" height="6.60" fill="#dee6f3"/>
<rect x="495.50" y="160.00" width="4.02" height="6.60" fill="#c9dff0"/>
<rect x="499.32" y="160.00" width="4.02" height="6.60" fill="#c2dbee"/>
<rect x="503.15" y="160.00" width="4.03" height="6.60" fill="#bbd8ec"/>
<rect x="506.98" y="160.00" width="4.02" height="6.60" fill="#b5d4ea"/>
<rect x="510.80" y="160.00" width="4.87" height="6.60" fill="#8fc1e0"/>
<rect x="515.47" y="160.00" width="4.87" height="6.60" fill="#86bbdd"/>
<rect x="520.13" y="160.00" width="4.87" height="6.60" fill="#7db6db"/>
<rect x="524.80" y="160.00" width="3.70" height="6.60" fill="#559fd1"/>
<rect x="528.30" y="160.00" width="3.70" height="6.60" fill="#559fd1"/>
<rect x="399.70" y="144.70" width="132.30" height="22.20" fill="none" stroke="#8a8a8a" stroke-width="0.7"/>
<path d="M399.7,173.3 L401,174.6 L406,175.2 L420,175.5 L440,175.6 L399.7,175.7 Z" fill="url(#gr)"/>
<path d="M480,175.6 L510,176.1 L525,176.8 L530,177.6 L532,178.6 L532,175.5 Z" fill="url(#gb)"/>
<rect x="399.70" y="169.50" width="132.30" height="20.80" fill="none" stroke="#7a7a7a" stroke-width="0.7"/>
<line x1="399.70" y1="190.30" x2="532.00" y2="190.30" stroke="#333" stroke-width="0.8"/>
<line x1="399.70" y1="169.50" x2="399.70" y2="190.30" stroke="#333" stroke-width="0.8"/>
<line x1="397.50" y1="168.80" x2="399.70" y2="168.80" stroke="#444" stroke-width="0.6"/>
<text x="395.50" y="171.30" font-size="7.00" text-anchor="end" font-weight="normal" fill="#4d4d4d" font-family="Liberation Sans, Arial, sans-serif" >4</text>
<line x1="397.50" y1="175.60" x2="399.70" y2="175.60" stroke="#444" stroke-width="0.6"/>
<text x="395.50" y="178.10" font-size="7.00" text-anchor="end" font-weight="normal" fill="#4d4d4d" font-family="Liberation Sans, Arial, sans-serif" >0</text>
<line x1="397.50" y1="182.40" x2="399.70" y2="182.40" stroke="#444" stroke-width="0.6"/>
<text x="395.50" y="184.90" font-size="7.00" text-anchor="end" font-weight="normal" fill="#4d4d4d" font-family="Liberation Sans, Arial, sans-serif" >−4</text>
<line x1="397.50" y1="189.20" x2="399.70" y2="189.20" stroke="#444" stroke-width="0.6"/>
<text x="395.50" y="191.70" font-size="7.00" text-anchor="end" font-weight="normal" fill="#4d4d4d" font-family="Liberation Sans, Arial, sans-serif" >−8</text>
<text transform="translate(382.60,176.00) rotate(-90)" font-size="4.80" text-anchor="middle" font-weight="normal" fill="#333" font-family="Liberation Sans, Arial, sans-serif" textLength="39.00" lengthAdjust="spacingAndGlyphs">Ranked List Metric</text>
<line x1="434.60" y1="190.30" x2="434.60" y2="192.10" stroke="#444" stroke-width="0.6"/>
<text x="434.30" y="200.10" font-size="7.00" text-anchor="middle" font-weight="normal" fill="#4d4d4d" font-family="Liberation Sans, Arial, sans-serif" textLength="18.50" lengthAdjust="spacingAndGlyphs" >5,000</text>
<line x1="469.50" y1="190.30" x2="469.50" y2="192.10" stroke="#444" stroke-width="0.6"/>
<text x="469.20" y="200.10" font-size="7.00" text-anchor="middle" font-weight="normal" fill="#4d4d4d" font-family="Liberation Sans, Arial, sans-serif" textLength="21.80" lengthAdjust="spacingAndGlyphs" >10,000</text>
<line x1="504.40" y1="190.30" x2="504.40" y2="192.10" stroke="#444" stroke-width="0.6"/>
<text x="504.10" y="200.10" font-size="7.00" text-anchor="middle" font-weight="normal" fill="#4d4d4d" font-family="Liberation Sans, Arial, sans-serif" textLength="21.80" lengthAdjust="spacingAndGlyphs" >15,000</text>
<text x="418.20" y="209.60" font-size="8.50" text-anchor="start" font-weight="normal" fill="#222" font-family="Liberation Sans, Arial, sans-serif" textLength="95.00" lengthAdjust="spacingAndGlyphs" >Rank in Ordered Dataset</text>
<text x="31.80" y="275.00" font-size="10.40" fill="#e5392d" font-family="Liberation Serif, Noto Serif CJK SC, serif" stroke="#e5392d" stroke-width="0.22" textLength="35.22" lengthAdjust="spacingAndGlyphs">Leading</text>
<text x="73.08" y="275.00" font-size="10.40" fill="#e5392d" font-family="Liberation Serif, Noto Serif CJK SC, serif" stroke="#e5392d" stroke-width="0.22" textLength="19.74" lengthAdjust="spacingAndGlyphs">edge</text>
<text x="98.88" y="275.00" font-size="10.40" fill="#e5392d" font-family="Liberation Serif, Noto Serif CJK SC, serif" stroke="#e5392d" stroke-width="0.22" textLength="24.90" lengthAdjust="spacingAndGlyphs">genes</text>
<text x="129.85" y="275.00" font-size="10.40" fill="#e5392d" font-family="Liberation Serif, Noto Serif CJK SC, serif" stroke="#e5392d" stroke-width="0.22" textLength="9.42" lengthAdjust="spacingAndGlyphs">in</text>
<text x="145.33" y="275.00" font-size="10.40" fill="#e5392d" font-family="Liberation Serif, Noto Serif CJK SC, serif" stroke="#e5392d" stroke-width="0.22" textLength="35.22" lengthAdjust="spacingAndGlyphs">siTELO2</text>
<text x="186.61" y="275.00" font-size="10.40" fill="#e5392d" font-family="Liberation Serif, Noto Serif CJK SC, serif" stroke="#e5392d" stroke-width="0.22" textLength="9.42" lengthAdjust="spacingAndGlyphs">vs</text>
<text x="202.09" y="275.00" font-size="10.40" fill="#e5392d" font-family="Liberation Serif, Noto Serif CJK SC, serif" stroke="#e5392d" stroke-width="0.22" textLength="50.70" lengthAdjust="spacingAndGlyphs">siScramble</text>
<text x="258.86" y="275.00" font-size="10.40" fill="#e5392d" font-family="Liberation Serif, Noto Serif CJK SC, serif" stroke="#e5392d" stroke-width="0.22" textLength="9.42" lengthAdjust="spacingAndGlyphs">in</text>
<text x="274.34" y="275.00" font-size="10.40" fill="#e5392d" font-family="Liberation Serif, Noto Serif CJK SC, serif" stroke="#e5392d" stroke-width="0.22" textLength="30.06" lengthAdjust="spacingAndGlyphs">GBM840</text>
<line x1="175.80" y1="400.60" x2="131.20" y2="304.00" stroke="#9c9c9c" stroke-width="0.6"/>
<line x1="175.80" y1="400.60" x2="103.10" y2="318.70" stroke="#9c9c9c" stroke-width="0.6"/>
<line x1="175.80" y1="400.60" x2="79.10" y2="337.70" stroke="#9c9c9c" stroke-width="0.6"/>
<line x1="175.80" y1="400.60" x2="63.50" y2="362.80" stroke="#9c9c9c" stroke-width="0.6"/>
<line x1="175.80" y1="400.60" x2="112.80" y2="365.80" stroke="#9c9c9c" stroke-width="0.6"/>
<line x1="175.80" y1="400.60" x2="55.50" y2="389.30" stroke="#9c9c9c" stroke-width="0.6"/>
<line x1="175.80" y1="400.60" x2="163.70" y2="298.60" stroke="#9c9c9c" stroke-width="0.6"/>
<line x1="175.80" y1="400.60" x2="196.20" y2="298.60" stroke="#9c9c9c" stroke-width="0.6"/>
<line x1="175.80" y1="400.60" x2="149.10" y2="340.70" stroke="#9c9c9c" stroke-width="0.6"/>
<line x1="175.80" y1="400.60" x2="195.20" y2="338.50" stroke="#9c9c9c" stroke-width="0.6"/>
<line x1="175.80" y1="400.60" x2="228.10" y2="307.20" stroke="#9c9c9c" stroke-width="0.6"/>
<line x1="175.80" y1="400.60" x2="255.50" y2="322.70" stroke="#9c9c9c" stroke-width="0.6"/>
<line x1="175.80" y1="400.60" x2="277.70" y2="343.70" stroke="#9c9c9c" stroke-width="0.6"/>
<line x1="175.80" y1="400.60" x2="234.00" y2="360.20" stroke="#9c9c9c" stroke-width="0.6"/>
<line x1="175.80" y1="400.60" x2="291.20" y2="369.20" stroke="#9c9c9c" stroke-width="0.6"/>
<line x1="175.80" y1="400.60" x2="251.10" y2="396.60" stroke="#9c9c9c" stroke-width="0.6"/>
<line x1="175.80" y1="400.60" x2="297.80" y2="396.00" stroke="#9c9c9c" stroke-width="0.6"/>
<line x1="175.80" y1="400.60" x2="293.80" y2="424.10" stroke="#9c9c9c" stroke-width="0.6"/>
<line x1="175.80" y1="400.60" x2="239.50" y2="434.50" stroke="#9c9c9c" stroke-width="0.6"/>
<line x1="175.80" y1="400.60" x2="282.40" y2="450.30" stroke="#9c9c9c" stroke-width="0.6"/>
<line x1="175.80" y1="400.60" x2="261.80" y2="472.80" stroke="#9c9c9c" stroke-width="0.6"/>
<line x1="175.80" y1="400.60" x2="236.00" y2="489.30" stroke="#9c9c9c" stroke-width="0.6"/>
<line x1="175.80" y1="400.60" x2="157.10" y2="462.10" stroke="#9c9c9c" stroke-width="0.6"/>
<line x1="175.80" y1="400.60" x2="203.20" y2="459.10" stroke="#9c9c9c" stroke-width="0.6"/>
<line x1="175.80" y1="400.60" x2="139.00" y2="498.20" stroke="#9c9c9c" stroke-width="0.6"/>
<line x1="175.80" y1="400.60" x2="172.10" y2="502.20" stroke="#9c9c9c" stroke-width="0.6"/>
<line x1="175.80" y1="400.60" x2="205.20" y2="499.60" stroke="#9c9c9c" stroke-width="0.6"/>
<line x1="175.80" y1="400.60" x2="101.10" y2="403.60" stroke="#9c9c9c" stroke-width="0.6"/>
<line x1="175.80" y1="400.60" x2="56.00" y2="417.70" stroke="#9c9c9c" stroke-width="0.6"/>
<line x1="175.80" y1="400.60" x2="67.10" y2="444.10" stroke="#9c9c9c" stroke-width="0.6"/>
<line x1="175.80" y1="400.60" x2="118.20" y2="440.50" stroke="#9c9c9c" stroke-width="0.6"/>
<line x1="175.80" y1="400.60" x2="84.50" y2="468.20" stroke="#9c9c9c" stroke-width="0.6"/>
<line x1="175.80" y1="400.60" x2="110.20" y2="484.80" stroke="#9c9c9c" stroke-width="0.6"/>
<circle cx="131.20" cy="304.00" r="2.4" fill="#f7baa4"/>
<circle cx="103.10" cy="318.70" r="2.4" fill="#f4a489"/>
<circle cx="79.10" cy="337.70" r="2.4" fill="#f18c6e"/>
<circle cx="63.50" cy="362.80" r="2.4" fill="#f7baa4"/>
<circle cx="112.80" cy="365.80" r="2.4" fill="#f4a489"/>
<circle cx="55.50" cy="389.30" r="2.4" fill="#f7b59e"/>
<circle cx="163.70" cy="298.60" r="2.4" fill="#f39678"/>
<circle cx="196.20" cy="298.60" r="2.4" fill="#f39b7e"/>
<circle cx="149.10" cy="340.70" r="2.4" fill="#fbdbcf"/>
<circle cx="195.20" cy="338.50" r="2.4" fill="#ee7255"/>
<circle cx="228.10" cy="307.20" r="2.4" fill="#fcdfd4"/>
<circle cx="255.50" cy="322.70" r="2.4" fill="#f18c6e"/>
<circle cx="277.70" cy="343.70" r="2.4" fill="#f5a88e"/>
<circle cx="234.00" cy="360.20" r="2.4" fill="#fcdfd4"/>
<circle cx="291.20" cy="369.20" r="2.4" fill="#f9c4b0"/>
<circle cx="251.10" cy="396.60" r="2.4" fill="#fbdbcf"/>
<circle cx="297.80" cy="396.00" r="2.4" fill="#fbdbcf"/>
<circle cx="293.80" cy="424.10" r="2.4" fill="#fbdbcf"/>
<circle cx="239.50" cy="434.50" r="2.4" fill="#fbdbcf"/>
<circle cx="282.40" cy="450.30" r="2.4" fill="#e41e20"/>
<circle cx="261.80" cy="472.80" r="2.4" fill="#fbdbcf"/>
<circle cx="236.00" cy="489.30" r="2.4" fill="#fbd8cb"/>
<circle cx="157.10" cy="462.10" r="2.4" fill="#fad1c2"/>
<circle cx="203.20" cy="459.10" r="2.4" fill="#fcddd2"/>
<circle cx="139.00" cy="498.20" r="2.4" fill="#ed6448"/>
<circle cx="172.10" cy="502.20" r="2.4" fill="#f4a489"/>
<circle cx="205.20" cy="499.60" r="2.4" fill="#fbd5c7"/>
<circle cx="101.10" cy="403.60" r="2.4" fill="#fbdbcf"/>
<circle cx="56.00" cy="417.70" r="2.4" fill="#f9c4b0"/>
<circle cx="67.10" cy="444.10" r="2.4" fill="#f9c4b0"/>
<circle cx="118.20" cy="440.50" r="2.4" fill="#f9cab9"/>
<circle cx="84.50" cy="468.20" r="2.4" fill="#fbdbcf"/>
<circle cx="110.20" cy="484.80" r="2.4" fill="#f9cab9"/>
<circle cx="175.80" cy="400.60" r="5.6" fill="#e6bd84"/>
<text x="105.80" y="305.00" font-size="7.00" text-anchor="start" font-weight="normal" fill="#3d3d3d" font-family="Liberation Sans, Arial, sans-serif" textLength="19.40" lengthAdjust="spacing" >GAST</text>
<text x="68.70" y="319.70" font-size="7.00" text-anchor="start" font-weight="normal" fill="#3d3d3d" font-family="Liberation Sans, Arial, sans-serif" textLength="29.00" lengthAdjust="spacing" >CTNNB1</text>
<text x="60.00" y="348.70" font-size="7.00" text-anchor="start" font-weight="normal" fill="#e5503f" font-family="Liberation Sans, Arial, sans-serif" textLength="18.70" lengthAdjust="spacing" >RAC1</text>
<text x="40.00" y="370.60" font-size="7.00" text-anchor="start" font-weight="normal" fill="#3d3d3d" font-family="Liberation Sans, Arial, sans-serif" textLength="21.50" lengthAdjust="spacing" >MDM2</text>
<text x="93.00" y="376.80" font-size="7.00" text-anchor="start" font-weight="normal" fill="#e5503f" font-family="Liberation Sans, Arial, sans-serif" textLength="19.60" lengthAdjust="spacing" >GFAP</text>
<text x="50.00" y="400.40" font-size="7.00" text-anchor="start" font-weight="normal" fill="#3d3d3d" font-family="Liberation Sans, Arial, sans-serif" textLength="18.10" lengthAdjust="spacing" >TP53</text>
<text x="138.60" y="307.60" font-size="7.00" text-anchor="start" font-weight="normal" fill="#3d3d3d" font-family="Liberation Sans, Arial, sans-serif" textLength="23.90" lengthAdjust="spacing" >ANXA1</text>
<text x="201.20" y="298.60" font-size="7.00" text-anchor="start" font-weight="normal" fill="#3d3d3d" font-family="Liberation Sans, Arial, sans-serif" textLength="22.00" lengthAdjust="spacing" >LATS2</text>
<text x="129.00" y="346.70" font-size="7.00" text-anchor="start" font-weight="normal" fill="#e5503f" font-family="Liberation Sans, Arial, sans-serif" textLength="15.00" lengthAdjust="spacing" >ATM</text>
<text x="176.10" y="346.70" font-size="7.00" text-anchor="start" font-weight="normal" fill="#3d3d3d" font-family="Liberation Sans, Arial, sans-serif" textLength="23.70" lengthAdjust="spacing" >NPTX1</text>
<text x="219.50" y="316.00" font-size="7.00" text-anchor="start" font-weight="normal" fill="#3d3d3d" font-family="Liberation Sans, Arial, sans-serif" textLength="23.50" lengthAdjust="spacing" >ALOX5</text>
<text x="253.70" y="318.70" font-size="7.00" text-anchor="start" font-weight="normal" fill="#3d3d3d" font-family="Liberation Sans, Arial, sans-serif" textLength="24.80" lengthAdjust="spacing" >DMBT1</text>
<text x="274.10" y="340.00" font-size="7.00" text-anchor="start" font-weight="normal" fill="#e5503f" font-family="Liberation Sans, Arial, sans-serif" textLength="20.10" lengthAdjust="spacing" >SOD2</text>
<text x="231.00" y="356.70" font-size="7.00" text-anchor="start" font-weight="normal" fill="#3d3d3d" font-family="Liberation Sans, Arial, sans-serif" textLength="25.00" lengthAdjust="spacing" >ROCK1</text>
<text x="268.10" y="365.60" font-size="7.00" text-anchor="start" font-weight="normal" fill="#3d3d3d" font-family="Liberation Sans, Arial, sans-serif" textLength="27.10" lengthAdjust="spacing" >GPNMB</text>
<text x="247.70" y="392.50" font-size="7.00" text-anchor="start" font-weight="normal" fill="#3d3d3d" font-family="Liberation Sans, Arial, sans-serif" textLength="14.80" lengthAdjust="spacing" >B2M</text>
<text x="275.10" y="406.00" font-size="7.00" text-anchor="start" font-weight="normal" fill="#3d3d3d" font-family="Liberation Sans, Arial, sans-serif" textLength="21.50" lengthAdjust="spacing" >TIMP1</text>
<text x="270.50" y="431.10" font-size="7.00" text-anchor="start" font-weight="normal" fill="#3d3d3d" font-family="Liberation Sans, Arial, sans-serif" textLength="20.70" lengthAdjust="spacing" >EGFR</text>
<text x="213.60" y="442.50" font-size="7.00" text-anchor="start" font-weight="normal" fill="#3d3d3d" font-family="Liberation Sans, Arial, sans-serif" textLength="24.40" lengthAdjust="spacing" >NOP53</text>
<text x="261.10" y="457.80" font-size="7.00" text-anchor="start" font-weight="normal" fill="#e5503f" font-family="Liberation Sans, Arial, sans-serif" textLength="20.60" lengthAdjust="spacing" >MMP1</text>
<text x="248.10" y="468.60" font-size="7.00" text-anchor="start" font-weight="normal" fill="#3d3d3d" font-family="Liberation Sans, Arial, sans-serif" textLength="30.00" lengthAdjust="spacing" >CDKN1B</text>
<text x="221.00" y="497.50" font-size="7.00" text-anchor="start" font-weight="normal" fill="#3d3d3d" font-family="Liberation Sans, Arial, sans-serif" textLength="16.40" lengthAdjust="spacing" >IRF1</text>
<text x="141.60" y="470.50" font-size="7.00" text-anchor="start" font-weight="normal" fill="#e5503f" font-family="Liberation Sans, Arial, sans-serif" textLength="20.50" lengthAdjust="spacing" >PTEN</text>
<text x="179.10" y="467.70" font-size="7.00" text-anchor="start" font-weight="normal" fill="#3d3d3d" font-family="Liberation Sans, Arial, sans-serif" textLength="32.70" lengthAdjust="spacing" >TNFSF10</text>
<text x="141.00" y="494.80" font-size="7.00" text-anchor="start" font-weight="normal" fill="#3d3d3d" font-family="Liberation Sans, Arial, sans-serif" textLength="10.50" lengthAdjust="spacing" >IL6</text>
<text x="150.00" y="509.80" font-size="7.00" text-anchor="start" font-weight="normal" fill="#3d3d3d" font-family="Liberation Sans, Arial, sans-serif" textLength="17.10" lengthAdjust="spacing" >NFIA</text>
<text x="188.70" y="509.20" font-size="7.00" text-anchor="start" font-weight="normal" fill="#3d3d3d" font-family="Liberation Sans, Arial, sans-serif" textLength="18.90" lengthAdjust="spacing" >BRAF</text>
<text x="83.10" y="412.00" font-size="7.00" text-anchor="start" font-weight="normal" fill="#3d3d3d" font-family="Liberation Sans, Arial, sans-serif" textLength="18.40" lengthAdjust="spacing" >AKT1</text>
<text x="45.00" y="427.30" font-size="7.00" text-anchor="start" font-weight="normal" fill="#3d3d3d" font-family="Liberation Sans, Arial, sans-serif" textLength="18.10" lengthAdjust="spacing" >KLF6</text>
<text x="64.10" y="440.10" font-size="7.00" text-anchor="start" font-weight="normal" fill="#3d3d3d" font-family="Liberation Sans, Arial, sans-serif" textLength="14.60" lengthAdjust="spacing" >APP</text>
<text x="116.60" y="436.70" font-size="7.00" text-anchor="start" font-weight="normal" fill="#3d3d3d" font-family="Liberation Sans, Arial, sans-serif" textLength="19.60" lengthAdjust="spacing" >CTSB</text>
<text x="79.70" y="465.20" font-size="7.00" text-anchor="start" font-weight="normal" fill="#3d3d3d" font-family="Liberation Sans, Arial, sans-serif" textLength="24.40" lengthAdjust="spacing" >BECN1</text>
<text x="106.60" y="481.20" font-size="7.00" text-anchor="start" font-weight="normal" fill="#3d3d3d" font-family="Liberation Sans, Arial, sans-serif" textLength="19.00" lengthAdjust="spacing" >GLG1</text>
<text x="108.90" y="394.20" font-size="7.00" text-anchor="start" font-weight="bold" fill="#222" font-family="Liberation Sans, Arial, sans-serif" textLength="110.70" lengthAdjust="spacingAndGlyphs" >Proteins Involved in Astrocytoma</text>
<text x="314.00" y="349.80" font-size="6.90" text-anchor="start" font-weight="bold" fill="#222" font-family="Liberation Sans, Arial, sans-serif" textLength="12.80" lengthAdjust="spacingAndGlyphs" >size</text>
<circle cx="320.3" cy="359.30" r="3.80" fill="#242424"/>
<text x="328.70" y="361.10" font-size="5.80" text-anchor="start" font-weight="normal" fill="#555" font-family="Liberation Sans, Arial, sans-serif" >10</text>
<circle cx="320.3" cy="370.50" r="4.60" fill="#242424"/>
<text x="328.70" y="372.80" font-size="5.80" text-anchor="start" font-weight="normal" fill="#555" font-family="Liberation Sans, Arial, sans-serif" >20</text>
<circle cx="320.3" cy="383.40" r="5.60" fill="#242424"/>
<text x="328.70" y="385.40" font-size="5.80" text-anchor="start" font-weight="normal" fill="#555" font-family="Liberation Sans, Arial, sans-serif" >30</text>
<text x="313.40" y="400.20" font-size="6.90" text-anchor="start" font-weight="bold" fill="#222" font-family="Liberation Sans, Arial, sans-serif" textLength="38.60" lengthAdjust="spacingAndGlyphs" >fold change</text>
<rect x="313.8" y="404.1" width="10.2" height="52.9" fill="url(#gfc)"/>
<text x="327.20" y="411.80" font-size="5.80" text-anchor="start" font-weight="normal" fill="#555" font-family="Liberation Sans, Arial, sans-serif" >2.0</text>
<text x="327.20" y="425.00" font-size="5.80" text-anchor="start" font-weight="normal" fill="#555" font-family="Liberation Sans, Arial, sans-serif" >1.5</text>
<text x="327.20" y="438.00" font-size="5.80" text-anchor="start" font-weight="normal" fill="#555" font-family="Liberation Sans, Arial, sans-serif" >1.0</text>
<text x="327.20" y="451.20" font-size="5.80" text-anchor="start" font-weight="normal" fill="#555" font-family="Liberation Sans, Arial, sans-serif" >0.5</text>
<line x1="413.45" y1="282.30" x2="413.45" y2="282.50" stroke="#333" stroke-width="0.7"/>
<line x1="410.00" y1="282.30" x2="417.00" y2="282.30" stroke="#333" stroke-width="0.7"/>
<rect x="406.30" y="282.90" width="14.30" height="67.70" fill="#d3b595" stroke="#2a2a2a" stroke-width="0.8"/>
<line x1="437.70" y1="309.00" x2="437.70" y2="312.40" stroke="#333" stroke-width="0.7"/>
<line x1="433.30" y1="309.00" x2="442.00" y2="309.00" stroke="#333" stroke-width="0.7"/>
<rect x="430.60" y="312.80" width="14.20" height="37.80" fill="#e0742b" stroke="#2a2a2a" stroke-width="0.8"/>
<line x1="397.20" y1="266.60" x2="397.20" y2="351.00" stroke="#2a2a2a" stroke-width="0.9"/>
<line x1="396.80" y1="350.60" x2="451.00" y2="350.60" stroke="#2a2a2a" stroke-width="0.9"/>
<line x1="393.40" y1="267.00" x2="397.20" y2="267.00" stroke="#2a2a2a" stroke-width="0.8"/>
<text x="392.50" y="269.30" font-size="6.40" text-anchor="end" font-weight="normal" fill="#2a2a2a" font-family="Liberation Sans, Arial, sans-serif" >20000</text>
<line x1="393.40" y1="287.90" x2="397.20" y2="287.90" stroke="#2a2a2a" stroke-width="0.8"/>
<text x="392.50" y="290.20" font-size="6.40" text-anchor="end" font-weight="normal" fill="#2a2a2a" font-family="Liberation Sans, Arial, sans-serif" >15000</text>
<line x1="393.40" y1="308.70" x2="397.20" y2="308.70" stroke="#2a2a2a" stroke-width="0.8"/>
<text x="392.50" y="311.00" font-size="6.40" text-anchor="end" font-weight="normal" fill="#2a2a2a" font-family="Liberation Sans, Arial, sans-serif" >10000</text>
<line x1="393.40" y1="329.70" x2="397.20" y2="329.70" stroke="#2a2a2a" stroke-width="0.8"/>
<text x="392.50" y="332.00" font-size="6.40" text-anchor="end" font-weight="normal" fill="#2a2a2a" font-family="Liberation Sans, Arial, sans-serif" >5000</text>
<line x1="393.40" y1="350.60" x2="397.20" y2="350.60" stroke="#2a2a2a" stroke-width="0.8"/>
<text x="392.50" y="352.90" font-size="6.40" text-anchor="end" font-weight="normal" fill="#2a2a2a" font-family="Liberation Sans, Arial, sans-serif" >0</text>
<line x1="413.30" y1="350.60" x2="413.30" y2="354.20" stroke="#2a2a2a" stroke-width="0.8"/>
<line x1="437.50" y1="350.60" x2="437.50" y2="354.20" stroke="#2a2a2a" stroke-width="0.8"/>
<text x="422.00" y="264.20" font-size="6.70" text-anchor="start" font-weight="bold" fill="#222" font-family="Liberation Sans, Arial, sans-serif" textLength="17.80" lengthAdjust="spacingAndGlyphs" >GFAP</text>
<text transform="translate(372.00,354.50) rotate(-90)" font-size="5.60" text-anchor="start" font-weight="bold" fill="#222" font-family="Liberation Sans, Arial, sans-serif" textLength="90.50" lengthAdjust="spacingAndGlyphs">Normalization intensity of mRNA</text>
<text transform="translate(416.20,361.50) rotate(-45)" font-size="6.10" text-anchor="end" font-weight="bold" fill="#222" font-family="Liberation Sans, Arial, sans-serif">Control</text>
<text transform="translate(441.00,362.30) rotate(-45)" font-size="6.10" text-anchor="end" font-weight="bold" fill="#222" font-family="Liberation Sans, Arial, sans-serif">TELO2 OE</text>
<text x="412.10" y="392.10" font-size="6.90" text-anchor="start" font-weight="bold" fill="#222" font-family="Liberation Sans, Arial, sans-serif" textLength="14.80" lengthAdjust="spacingAndGlyphs" >NHA</text>
<text x="434.35 440.65" y="306.90" font-size="7.40" text-anchor="middle" fill="#3a3a3a" font-family="DejaVu Sans, sans-serif">★★</text>
<line x1="504.80" y1="310.40" x2="504.80" y2="318.40" stroke="#333" stroke-width="0.7"/>
<line x1="500.60" y1="310.40" x2="508.80" y2="310.40" stroke="#333" stroke-width="0.7"/>
<rect x="498.00" y="318.80" width="13.60" height="32.60" fill="#d3b595" stroke="#2a2a2a" stroke-width="0.8"/>
<line x1="528.15" y1="284.80" x2="528.15" y2="289.40" stroke="#333" stroke-width="0.7"/>
<line x1="524.20" y1="284.80" x2="532.00" y2="284.80" stroke="#333" stroke-width="0.7"/>
<rect x="521.00" y="289.80" width="14.30" height="61.60" fill="#e0742b" stroke="#2a2a2a" stroke-width="0.8"/>
<line x1="488.80" y1="268.50" x2="488.80" y2="351.80" stroke="#2a2a2a" stroke-width="0.9"/>
<line x1="488.40" y1="351.40" x2="544.60" y2="351.40" stroke="#2a2a2a" stroke-width="0.9"/>
<line x1="485.00" y1="268.90" x2="488.80" y2="268.90" stroke="#2a2a2a" stroke-width="0.8"/>
<text x="484.10" y="271.20" font-size="6.40" text-anchor="end" font-weight="normal" fill="#2a2a2a" font-family="Liberation Sans, Arial, sans-serif" >200</text>
<line x1="485.00" y1="289.50" x2="488.80" y2="289.50" stroke="#2a2a2a" stroke-width="0.8"/>
<text x="484.10" y="291.80" font-size="6.40" text-anchor="end" font-weight="normal" fill="#2a2a2a" font-family="Liberation Sans, Arial, sans-serif" >150</text>
<line x1="485.00" y1="310.20" x2="488.80" y2="310.20" stroke="#2a2a2a" stroke-width="0.8"/>
<text x="484.10" y="312.50" font-size="6.40" text-anchor="end" font-weight="normal" fill="#2a2a2a" font-family="Liberation Sans, Arial, sans-serif" >100</text>
<line x1="485.00" y1="330.80" x2="488.80" y2="330.80" stroke="#2a2a2a" stroke-width="0.8"/>
<text x="484.10" y="333.10" font-size="6.40" text-anchor="end" font-weight="normal" fill="#2a2a2a" font-family="Liberation Sans, Arial, sans-serif" >50</text>
<line x1="485.00" y1="351.40" x2="488.80" y2="351.40" stroke="#2a2a2a" stroke-width="0.8"/>
<text x="484.10" y="353.70" font-size="6.40" text-anchor="end" font-weight="normal" fill="#2a2a2a" font-family="Liberation Sans, Arial, sans-serif" >0</text>
<line x1="504.40" y1="351.40" x2="504.40" y2="355.00" stroke="#2a2a2a" stroke-width="0.8"/>
<line x1="527.90" y1="351.40" x2="527.90" y2="355.00" stroke="#2a2a2a" stroke-width="0.8"/>
<text x="507.10" y="264.50" font-size="6.70" text-anchor="start" font-weight="bold" fill="#222" font-family="Liberation Sans, Arial, sans-serif" textLength="18.70" lengthAdjust="spacingAndGlyphs" >GFAP</text>
<text transform="translate(471.30,354.80) rotate(-90)" font-size="5.60" text-anchor="start" font-weight="bold" fill="#222" font-family="Liberation Sans, Arial, sans-serif" textLength="90.50" lengthAdjust="spacingAndGlyphs">Normalization intensity of mRNA</text>
<text transform="translate(506.50,362.00) rotate(-45)" font-size="6.10" text-anchor="end" font-weight="bold" fill="#222" font-family="Liberation Sans, Arial, sans-serif">siScramble</text>
<text transform="translate(530.60,362.60) rotate(-45)" font-size="6.10" text-anchor="end" font-weight="bold" fill="#222" font-family="Liberation Sans, Arial, sans-serif">siTELO2</text>
<text x="503.10" y="390.60" font-size="6.90" text-anchor="start" font-weight="bold" fill="#222" font-family="Liberation Sans, Arial, sans-serif" textLength="31.50" lengthAdjust="spacingAndGlyphs" >GBM8401</text>
<text x="525.05 531.35" y="283.20" font-size="7.40" text-anchor="middle" fill="#3a3a3a" font-family="DejaVu Sans, sans-serif">★★</text>
<line x1="411.95" y1="440.70" x2="411.95" y2="446.20" stroke="#333" stroke-width="0.7"/>
<line x1="407.90" y1="440.70" x2="415.70" y2="440.70" stroke="#333" stroke-width="0.7"/>
<rect x="405.00" y="446.60" width="13.90" height="59.10" fill="#d3b595" stroke="#2a2a2a" stroke-width="0.8"/>
<line x1="435.75" y1="481.00" x2="435.75" y2="482.00" stroke="#333" stroke-width="0.7"/>
<line x1="432.00" y1="481.00" x2="439.50" y2="481.00" stroke="#333" stroke-width="0.7"/>
<rect x="428.90" y="482.40" width="13.70" height="23.30" fill="#e0742b" stroke="#2a2a2a" stroke-width="0.8"/>
<line x1="396.20" y1="423.70" x2="396.20" y2="506.10" stroke="#2a2a2a" stroke-width="0.9"/>
<line x1="395.80" y1="505.70" x2="449.00" y2="505.70" stroke="#2a2a2a" stroke-width="0.9"/>
<line x1="392.40" y1="424.10" x2="396.20" y2="424.10" stroke="#2a2a2a" stroke-width="0.8"/>
<text x="391.50" y="426.40" font-size="6.40" text-anchor="end" font-weight="normal" fill="#2a2a2a" font-family="Liberation Sans, Arial, sans-serif" >10000</text>
<line x1="392.40" y1="440.30" x2="396.20" y2="440.30" stroke="#2a2a2a" stroke-width="0.8"/>
<text x="391.50" y="442.60" font-size="6.40" text-anchor="end" font-weight="normal" fill="#2a2a2a" font-family="Liberation Sans, Arial, sans-serif" >8000</text>
<line x1="392.40" y1="456.60" x2="396.20" y2="456.60" stroke="#2a2a2a" stroke-width="0.8"/>
<text x="391.50" y="458.90" font-size="6.40" text-anchor="end" font-weight="normal" fill="#2a2a2a" font-family="Liberation Sans, Arial, sans-serif" >6000</text>
<line x1="392.40" y1="473.00" x2="396.20" y2="473.00" stroke="#2a2a2a" stroke-width="0.8"/>
<text x="391.50" y="475.30" font-size="6.40" text-anchor="end" font-weight="normal" fill="#2a2a2a" font-family="Liberation Sans, Arial, sans-serif" >4000</text>
<line x1="392.40" y1="489.40" x2="396.20" y2="489.40" stroke="#2a2a2a" stroke-width="0.8"/>
<text x="391.50" y="491.70" font-size="6.40" text-anchor="end" font-weight="normal" fill="#2a2a2a" font-family="Liberation Sans, Arial, sans-serif" >2000</text>
<line x1="392.40" y1="505.70" x2="396.20" y2="505.70" stroke="#2a2a2a" stroke-width="0.8"/>
<text x="391.50" y="508.00" font-size="6.40" text-anchor="end" font-weight="normal" fill="#2a2a2a" font-family="Liberation Sans, Arial, sans-serif" >0</text>
<line x1="411.80" y1="505.70" x2="411.80" y2="509.30" stroke="#2a2a2a" stroke-width="0.8"/>
<line x1="435.70" y1="505.70" x2="435.70" y2="509.30" stroke="#2a2a2a" stroke-width="0.8"/>
<text x="414.10" y="416.40" font-size="6.70" text-anchor="start" font-weight="bold" fill="#222" font-family="Liberation Sans, Arial, sans-serif" textLength="22.90" lengthAdjust="spacingAndGlyphs" >FGFR3</text>
<text transform="translate(369.50,510.70) rotate(-90)" font-size="5.60" text-anchor="start" font-weight="bold" fill="#222" font-family="Liberation Sans, Arial, sans-serif" textLength="90.50" lengthAdjust="spacingAndGlyphs">Normalization intensity of mRNA</text>
<text transform="translate(416.00,515.20) rotate(-45)" font-size="6.10" text-anchor="end" font-weight="bold" fill="#222" font-family="Liberation Sans, Arial, sans-serif">Control</text>
<text transform="translate(440.80,516.00) rotate(-45)" font-size="6.10" text-anchor="end" font-weight="bold" fill="#222" font-family="Liberation Sans, Arial, sans-serif">TELO2 OE</text>
<text x="412.00" y="545.60" font-size="6.90" text-anchor="start" font-weight="bold" fill="#222" font-family="Liberation Sans, Arial, sans-serif" textLength="14.80" lengthAdjust="spacingAndGlyphs" >NHA</text>
<text x="429.50 435.80 442.10" y="479.00" font-size="7.40" text-anchor="middle" fill="#3a3a3a" font-family="DejaVu Sans, sans-serif">★★★</text>
<rect x="498.10" y="478.60" width="15.00" height="26.90" fill="#d3b595" stroke="#2a2a2a" stroke-width="0.8"/>
<line x1="529.40" y1="450.20" x2="529.40" y2="467.10" stroke="#333" stroke-width="0.7"/>
<line x1="525.60" y1="450.20" x2="533.70" y2="450.20" stroke="#333" stroke-width="0.7"/>
<rect x="522.00" y="467.50" width="14.80" height="38.00" fill="#e0742b" stroke="#2a2a2a" stroke-width="0.8"/>
<line x1="489.80" y1="422.60" x2="489.80" y2="505.90" stroke="#2a2a2a" stroke-width="0.9"/>
<line x1="489.40" y1="505.50" x2="545.70" y2="505.50" stroke="#2a2a2a" stroke-width="0.9"/>
<line x1="486.00" y1="423.00" x2="489.80" y2="423.00" stroke="#2a2a2a" stroke-width="0.8"/>
<text x="485.10" y="425.30" font-size="6.40" text-anchor="end" font-weight="normal" fill="#2a2a2a" font-family="Liberation Sans, Arial, sans-serif" >150</text>
<line x1="486.00" y1="450.50" x2="489.80" y2="450.50" stroke="#2a2a2a" stroke-width="0.8"/>
<text x="485.10" y="452.80" font-size="6.40" text-anchor="end" font-weight="normal" fill="#2a2a2a" font-family="Liberation Sans, Arial, sans-serif" >100</text>
<line x1="486.00" y1="478.10" x2="489.80" y2="478.10" stroke="#2a2a2a" stroke-width="0.8"/>
<text x="485.10" y="480.40" font-size="6.40" text-anchor="end" font-weight="normal" fill="#2a2a2a" font-family="Liberation Sans, Arial, sans-serif" >50</text>
<line x1="486.00" y1="505.50" x2="489.80" y2="505.50" stroke="#2a2a2a" stroke-width="0.8"/>
<text x="485.10" y="507.80" font-size="6.40" text-anchor="end" font-weight="normal" fill="#2a2a2a" font-family="Liberation Sans, Arial, sans-serif" >0</text>
<line x1="505.60" y1="505.50" x2="505.60" y2="509.10" stroke="#2a2a2a" stroke-width="0.8"/>
<line x1="529.40" y1="505.50" x2="529.40" y2="509.10" stroke="#2a2a2a" stroke-width="0.8"/>
<text x="507.80" y="416.80" font-size="6.70" text-anchor="start" font-weight="bold" fill="#222" font-family="Liberation Sans, Arial, sans-serif" textLength="22.80" lengthAdjust="spacingAndGlyphs" >FGFR3</text>
<text transform="translate(471.40,511.00) rotate(-90)" font-size="5.60" text-anchor="start" font-weight="bold" fill="#222" font-family="Liberation Sans, Arial, sans-serif" textLength="90.50" lengthAdjust="spacingAndGlyphs">Normalization intensity of mRNA</text>
<text transform="translate(507.20,516.20) rotate(-45)" font-size="6.10" text-anchor="end" font-weight="bold" fill="#222" font-family="Liberation Sans, Arial, sans-serif">siScramble</text>
<text transform="translate(531.80,516.50) rotate(-45)" font-size="6.10" text-anchor="end" font-weight="bold" fill="#222" font-family="Liberation Sans, Arial, sans-serif">siTELO2</text>
<text x="502.50" y="543.40" font-size="6.90" text-anchor="start" font-weight="bold" fill="#222" font-family="Liberation Sans, Arial, sans-serif" textLength="31.90" lengthAdjust="spacingAndGlyphs" >GBM8401</text>
<text x="529.20" y="447.00" font-size="6.40" text-anchor="middle" font-weight="bold" fill="#333" font-family="Liberation Sans, Arial, sans-serif" >ns</text>
</svg></body></html>
